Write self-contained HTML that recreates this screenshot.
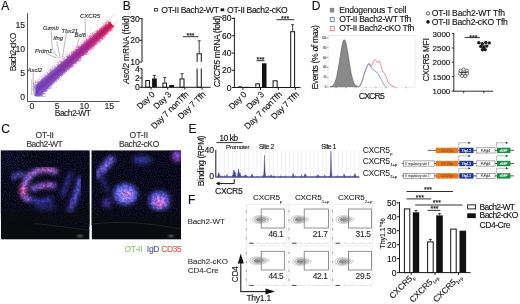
<!DOCTYPE html><html><head><meta charset="utf-8"><style>html,body{margin:0;padding:0;background:#fff;}svg{display:block;}</style></head><body><svg xmlns="http://www.w3.org/2000/svg" width="520" height="304" viewBox="0 0 520 304" font-family="Liberation Sans, Arial, sans-serif"><defs><linearGradient id="gA" gradientUnits="userSpaceOnUse" x1="37" y1="91" x2="112" y2="24"><stop offset="0" stop-color="#7e50c4"/><stop offset="0.3" stop-color="#8846bc"/><stop offset="0.55" stop-color="#aa34a0"/><stop offset="0.8" stop-color="#cc2878"/><stop offset="1" stop-color="#dc1c56"/></linearGradient><clipPath id="cA"><rect x="34.6" y="10" width="90" height="86.2"/></clipPath><filter id="bl1" x="-50%" y="-50%" width="200%" height="200%"><feGaussianBlur stdDeviation="1.2"/></filter><filter id="bgs" x="0" y="0" width="100%" height="100%" color-interpolation-filters="sRGB"><feGaussianBlur in="SourceGraphic" stdDeviation="3" result="b"/><feTurbulence type="fractalNoise" baseFrequency="0.85" numOctaves="2" seed="4" result="n"/><feColorMatrix in="n" type="matrix" values="0 0 0 3 -1.2  0 0 0 3 -1.2  0 0 0 3 -1.2  0 0 0 0 1" result="ng"/><feComposite in="b" in2="ng" operator="arithmetic" k1="0.8" k2="0.15" k3="0" k4="0"/></filter><filter id="sts" x="0" y="0" width="100%" height="100%" color-interpolation-filters="sRGB"><feGaussianBlur in="SourceGraphic" stdDeviation="2.1" result="b"/><feTurbulence type="fractalNoise" baseFrequency="0.4" numOctaves="3" seed="9" result="n"/><feColorMatrix in="n" type="matrix" values="0 0 0 1.6 -0.5  0 0 0 1.6 -0.5  0 0 0 1.6 -0.5  0 0 0 0 1" result="ng"/><feComposite in="b" in2="ng" operator="arithmetic" k1="0.8" k2="0.85" k3="0" k4="0"/></filter><linearGradient id="fadeB" x1="0" y1="0" x2="0" y2="1"><stop offset="0" stop-color="#0a0c10" stop-opacity="0"/><stop offset="1" stop-color="#0a0c10" stop-opacity="0.85"/></linearGradient><clipPath id="c1"><rect x="0.8" y="150.4" width="88.8" height="89.2"/></clipPath><clipPath id="c2"><rect x="91.6" y="150.6" width="89.4" height="89"/></clipPath><filter id="bl05" x="-50%" y="-50%" width="200%" height="200%"><feGaussianBlur stdDeviation="0.7"/></filter></defs><text x="1.2" y="9.8" font-size="12" text-anchor="start" fill="#111" stroke="#111" stroke-width="0.12" >A</text><text x="122.8" y="9.9" font-size="12" text-anchor="start" fill="#111" stroke="#111" stroke-width="0.12" >B</text><text x="311.8" y="9.6" font-size="12" text-anchor="start" fill="#111" stroke="#111" stroke-width="0.12" >D</text><text x="1.2" y="133" font-size="12" text-anchor="start" fill="#111" stroke="#111" stroke-width="0.12" >C</text><text x="188.6" y="133.2" font-size="12" text-anchor="start" fill="#111" stroke="#111" stroke-width="0.12" >E</text><text x="188" y="203.9" font-size="12" text-anchor="start" fill="#111" stroke="#111" stroke-width="0.12" >F</text><g clip-path="url(#cA)"><g><rect x="83.6" y="53.3" width="1.2" height="1.2" fill="rgb(194,86,168)"/><rect x="51.5" y="82.2" width="1.2" height="1.2" fill="rgb(155,105,204)"/><rect x="105" y="37" width="0.9" height="0.9" fill="rgb(235,153,188)"/><rect x="92.7" y="35.6" width="1.2" height="1.2" fill="rgb(214,72,143)"/><rect x="51.7" y="69.8" width="1.2" height="1.2" fill="rgb(168,120,208)"/><rect x="62.6" y="58.9" width="0.9" height="0.9" fill="rgb(200,149,210)"/><rect x="78.9" y="59.7" width="0.9" height="0.9" fill="rgb(203,131,197)"/><rect x="83.5" y="53.7" width="1.2" height="1.2" fill="rgb(196,91,172)"/><rect x="46.5" y="87.2" width="1.2" height="1.2" fill="rgb(153,108,206)"/><rect x="70.8" y="64.7" width="1.2" height="1.2" fill="rgb(175,93,186)"/><rect x="75.2" y="61.8" width="1.2" height="1.2" fill="rgb(190,112,191)"/><rect x="53.3" y="80.6" width="1.2" height="1.2" fill="rgb(155,104,204)"/><rect x="83.8" y="42.6" width="1.2" height="1.2" fill="rgb(204,88,163)"/><rect x="57.1" y="65.1" width="1.2" height="1.2" fill="rgb(174,116,202)"/><rect x="40.1" y="80.9" width="1.2" height="1.2" fill="rgb(153,108,206)"/><rect x="96.7" y="26.5" width="0.9" height="0.9" fill="rgb(244,200,218)"/><rect x="86.1" y="53.8" width="0.9" height="0.9" fill="rgb(215,141,196)"/><rect x="35.1" y="85.5" width="1.2" height="1.2" fill="rgb(152,112,208)"/><rect x="103.5" y="35.7" width="1.2" height="1.2" fill="rgb(223,96,150)"/><rect x="75.7" y="48.8" width="1.2" height="1.2" fill="rgb(199,110,184)"/><rect x="54" y="69.2" width="1.2" height="1.2" fill="rgb(158,101,200)"/><rect x="92.3" y="32" width="0.9" height="0.9" fill="rgb(236,168,201)"/><rect x="75" y="49.3" width="0.9" height="0.9" fill="rgb(202,120,189)"/><rect x="84.3" y="52" width="1.2" height="1.2" fill="rgb(194,81,164)"/><rect x="69" y="66.9" width="1.2" height="1.2" fill="rgb(178,106,194)"/><rect x="66.1" y="69.8" width="1.2" height="1.2" fill="rgb(178,115,199)"/><rect x="44.4" y="75.9" width="1.2" height="1.2" fill="rgb(170,129,212)"/><rect x="51.1" y="69.5" width="0.9" height="0.9" fill="rgb(183,143,216)"/><rect x="44.6" y="89.7" width="1.2" height="1.2" fill="rgb(153,109,207)"/><rect x="108.9" y="29.7" width="1.2" height="1.2" fill="rgb(225,76,128)"/><rect x="45.5" y="88.5" width="1.2" height="1.2" fill="rgb(153,109,207)"/><rect x="103.8" y="26.8" width="1.2" height="1.2" fill="rgb(221,66,123)"/><rect x="104" y="34.2" width="1.2" height="1.2" fill="rgb(219,69,130)"/><rect x="73.4" y="50.9" width="1.2" height="1.2" fill="rgb(195,108,185)"/><rect x="47.3" y="75.2" width="1.2" height="1.2" fill="rgb(155,105,204)"/><rect x="104.7" y="36.2" width="0.9" height="0.9" fill="rgb(230,127,170)"/><rect x="51.8" y="66.8" width="0.9" height="0.9" fill="rgb(210,184,230)"/><rect x="36.7" y="82.1" width="0.9" height="0.9" fill="rgb(181,150,220)"/><rect x="87" y="51.8" width="0.9" height="0.9" fill="rgb(208,114,180)"/><rect x="98.8" y="30.1" width="1.2" height="1.2" fill="rgb(220,72,134)"/><rect x="75.7" y="50" width="1.2" height="1.2" fill="rgb(188,85,171)"/><rect x="75.5" y="61.5" width="1.2" height="1.2" fill="rgb(191,111,190)"/><rect x="109.6" y="36.4" width="0.9" height="0.9" fill="rgb(245,199,217)"/><rect x="98.3" y="39.7" width="1.2" height="1.2" fill="rgb(216,79,146)"/><rect x="94.4" y="34.6" width="1.2" height="1.2" fill="rgb(215,71,141)"/><rect x="78.1" y="46.6" width="1.2" height="1.2" fill="rgb(204,112,182)"/><rect x="91.3" y="45.6" width="1.2" height="1.2" fill="rgb(205,76,153)"/><rect x="49.5" y="84.2" width="1.2" height="1.2" fill="rgb(154,107,205)"/><rect x="53.7" y="65" width="0.9" height="0.9" fill="rgb(213,185,229)"/><rect x="79.6" y="57.2" width="1.2" height="1.2" fill="rgb(190,95,178)"/><rect x="105.4" y="24.7" width="1.2" height="1.2" fill="rgb(224,72,124)"/><rect x="107.4" y="22.3" width="0.9" height="0.9" fill="rgb(231,101,143)"/><rect x="106" y="34.4" width="0.9" height="0.9" fill="rgb(228,111,157)"/><rect x="80.8" y="57.4" width="0.9" height="0.9" fill="rgb(199,115,187)"/><rect x="59.6" y="61" width="0.9" height="0.9" fill="rgb(205,162,217)"/><rect x="33.2" y="87" width="1.2" height="1.2" fill="rgb(151,113,209)"/><rect x="105.4" y="24.8" width="1.2" height="1.2" fill="rgb(224,69,122)"/><rect x="99.6" y="41.9" width="0.9" height="0.9" fill="rgb(232,150,190)"/><rect x="84.4" y="53.5" width="1.2" height="1.2" fill="rgb(202,105,178)"/><rect x="60" y="74.3" width="1.2" height="1.2" fill="rgb(160,100,199)"/><rect x="106.3" y="31.6" width="1.2" height="1.2" fill="rgb(221,67,125)"/><rect x="81.9" y="54.9" width="1.2" height="1.2" fill="rgb(191,87,171)"/><rect x="76.1" y="49.8" width="1.2" height="1.2" fill="rgb(189,84,170)"/><rect x="109.6" y="27.9" width="1.2" height="1.2" fill="rgb(224,64,118)"/><rect x="78.8" y="47.4" width="1.2" height="1.2" fill="rgb(193,82,166)"/><rect x="39.5" y="95.2" width="1.2" height="1.2" fill="rgb(151,113,209)"/><rect x="94.6" y="43.1" width="1.2" height="1.2" fill="rgb(210,77,149)"/><rect x="44.7" y="92.8" width="0.9" height="0.9" fill="rgb(187,159,224)"/><rect x="97.5" y="40.2" width="1.2" height="1.2" fill="rgb(215,71,143)"/><rect x="106.1" y="31.4" width="1.2" height="1.2" fill="rgb(221,67,125)"/><rect x="48" y="74.5" width="1.2" height="1.2" fill="rgb(155,104,204)"/><rect x="73.6" y="51.5" width="1.2" height="1.2" fill="rgb(187,90,177)"/><rect x="40.6" y="79.6" width="1.2" height="1.2" fill="rgb(164,124,211)"/><rect x="71.4" y="53.6" width="1.2" height="1.2" fill="rgb(182,87,178)"/><rect x="81.4" y="45.4" width="1.2" height="1.2" fill="rgb(197,80,162)"/><rect x="79.2" y="56.6" width="1.2" height="1.2" fill="rgb(187,85,174)"/><rect x="92.5" y="34.6" width="1.2" height="1.2" fill="rgb(220,97,158)"/><rect x="52.7" y="68.4" width="0.9" height="0.9" fill="rgb(180,136,212)"/><rect x="92.3" y="35" width="1.2" height="1.2" fill="rgb(218,91,155)"/><rect x="98.1" y="31" width="1.2" height="1.2" fill="rgb(218,68,133)"/><rect x="95.6" y="43.8" width="0.9" height="0.9" fill="rgb(219,110,169)"/><rect x="51.4" y="86.6" width="0.9" height="0.9" fill="rgb(200,174,228)"/><rect x="82" y="54.1" width="1.2" height="1.2" fill="rgb(191,83,169)"/><rect x="81.2" y="44.7" width="1.2" height="1.2" fill="rgb(202,93,169)"/><rect x="92.4" y="47.4" width="0.9" height="0.9" fill="rgb(218,126,182)"/><rect x="100.8" y="29.1" width="1.2" height="1.2" fill="rgb(220,68,129)"/><rect x="80.7" y="45.8" width="1.2" height="1.2" fill="rgb(196,80,163)"/><rect x="80.2" y="59.5" width="0.9" height="0.9" fill="rgb(212,152,206)"/><rect x="54.3" y="80.9" width="1.2" height="1.2" fill="rgb(169,125,211)"/><rect x="86.4" y="51.2" width="1.2" height="1.2" fill="rgb(202,97,171)"/><rect x="38" y="81.8" width="1.2" height="1.2" fill="rgb(165,126,213)"/><rect x="99.7" y="38" width="1.2" height="1.2" fill="rgb(216,70,138)"/><rect x="71.3" y="53.4" width="1.2" height="1.2" fill="rgb(185,94,181)"/><rect x="47.4" y="74" width="1.2" height="1.2" fill="rgb(160,112,206)"/><rect x="33.7" y="85.6" width="1.2" height="1.2" fill="rgb(164,129,214)"/><rect x="79.5" y="56.2" width="1.2" height="1.2" fill="rgb(187,85,173)"/><rect x="90" y="38" width="1.2" height="1.2" fill="rgb(209,73,147)"/><rect x="44.5" y="89.3" width="1.2" height="1.2" fill="rgb(153,109,207)"/><rect x="101.2" y="27.4" width="1.2" height="1.2" fill="rgb(224,85,139)"/><rect x="58.3" y="76.7" width="1.2" height="1.2" fill="rgb(164,112,206)"/><rect x="49" y="85.6" width="1.2" height="1.2" fill="rgb(158,115,208)"/><rect x="104.1" y="34.3" width="1.2" height="1.2" fill="rgb(220,73,133)"/><rect x="35.5" y="85.1" width="1.2" height="1.2" fill="rgb(152,111,208)"/><rect x="95.6" y="42.2" width="1.2" height="1.2" fill="rgb(213,80,150)"/><rect x="62.9" y="71.3" width="1.2" height="1.2" fill="rgb(164,97,195)"/><rect x="74.9" y="60.8" width="1.2" height="1.2" fill="rgb(181,89,180)"/><rect x="56.1" y="80.7" width="0.9" height="0.9" fill="rgb(185,147,218)"/><rect x="93" y="43.8" width="1.2" height="1.2" fill="rgb(208,74,150)"/><rect x="50.9" y="88.2" width="0.9" height="0.9" fill="rgb(211,192,234)"/><rect x="79.6" y="45.7" width="1.2" height="1.2" fill="rgb(202,101,174)"/><rect x="95.2" y="41.7" width="1.2" height="1.2" fill="rgb(211,73,146)"/><rect x="79.5" y="46.1" width="1.2" height="1.2" fill="rgb(199,94,171)"/><rect x="87.8" y="36.5" width="0.9" height="0.9" fill="rgb(230,156,197)"/><rect x="63.5" y="60" width="1.2" height="1.2" fill="rgb(177,102,191)"/><rect x="71.7" y="53.4" width="1.2" height="1.2" fill="rgb(183,87,177)"/><rect x="86.3" y="40.6" width="1.2" height="1.2" fill="rgb(206,82,157)"/><rect x="95.2" y="32.9" width="1.2" height="1.2" fill="rgb(218,80,144)"/><rect x="46" y="90.2" width="0.9" height="0.9" fill="rgb(171,135,216)"/><rect x="109" y="22" width="1.2" height="1.2" fill="rgb(226,69,117)"/><rect x="91.1" y="29.1" width="0.9" height="0.9" fill="rgb(243,200,221)"/><rect x="35.4" y="80.6" width="0.9" height="0.9" fill="rgb(216,200,237)"/><rect x="37.1" y="83.6" width="1.2" height="1.2" fill="rgb(153,110,208)"/><rect x="79.9" y="57.3" width="1.2" height="1.2" fill="rgb(194,103,182)"/><rect x="42" y="77.2" width="0.9" height="0.9" fill="rgb(184,151,220)"/><rect x="50.9" y="82.8" width="1.2" height="1.2" fill="rgb(154,106,204)"/><rect x="71" y="63.8" width="1.2" height="1.2" fill="rgb(175,91,185)"/><rect x="51.6" y="67.9" width="0.9" height="0.9" fill="rgb(199,167,224)"/><rect x="64.7" y="59.7" width="1.2" height="1.2" fill="rgb(173,92,187)"/><rect x="108.2" y="20.8" width="0.9" height="0.9" fill="rgb(235,123,157)"/><rect x="54.3" y="81.9" width="0.9" height="0.9" fill="rgb(178,138,215)"/><rect x="51.5" y="81.9" width="1.2" height="1.2" fill="rgb(155,105,204)"/><rect x="68.5" y="56.1" width="1.2" height="1.2" fill="rgb(179,90,181)"/><rect x="48.1" y="86.4" width="1.2" height="1.2" fill="rgb(157,113,208)"/><rect x="49.7" y="86.9" width="0.9" height="0.9" fill="rgb(181,147,219)"/><rect x="49.2" y="73" width="1.2" height="1.2" fill="rgb(156,103,204)"/><rect x="76.6" y="63.1" width="0.9" height="0.9" fill="rgb(212,160,213)"/><rect x="78" y="61.4" width="0.9" height="0.9" fill="rgb(210,151,207)"/><rect x="99" y="30.3" width="1.2" height="1.2" fill="rgb(219,68,131)"/><rect x="37.7" y="81.1" width="0.9" height="0.9" fill="rgb(182,151,221)"/><rect x="104.5" y="25.4" width="1.2" height="1.2" fill="rgb(223,72,126)"/><rect x="110.8" y="27.8" width="1.2" height="1.2" fill="rgb(226,78,127)"/><rect x="67.8" y="56.3" width="1.2" height="1.2" fill="rgb(182,99,186)"/><rect x="33" y="87.2" width="1.2" height="1.2" fill="rgb(151,113,209)"/><rect x="70.8" y="64.9" width="1.2" height="1.2" fill="rgb(178,98,188)"/><rect x="101.1" y="39.8" width="0.9" height="0.9" fill="rgb(230,134,178)"/><rect x="85.3" y="41.8" width="1.2" height="1.2" fill="rgb(203,77,155)"/><rect x="92.4" y="45.3" width="1.2" height="1.2" fill="rgb(208,83,156)"/><rect x="41.4" y="80.2" width="1.2" height="1.2" fill="rgb(153,108,206)"/><rect x="107" y="31.8" width="1.2" height="1.2" fill="rgb(224,83,136)"/><rect x="60" y="74.8" width="1.2" height="1.2" fill="rgb(162,104,201)"/><rect x="74.4" y="61" width="1.2" height="1.2" fill="rgb(180,89,181)"/><rect x="105.3" y="22.4" width="0.9" height="0.9" fill="rgb(236,142,173)"/><rect x="57.2" y="79.4" width="0.9" height="0.9" fill="rgb(181,141,216)"/><rect x="91.2" y="49.2" width="0.9" height="0.9" fill="rgb(222,143,193)"/><rect x="68.4" y="67.4" width="1.2" height="1.2" fill="rgb(178,106,193)"/><rect x="84" y="42.8" width="1.2" height="1.2" fill="rgb(201,78,158)"/><rect x="87" y="49.9" width="1.2" height="1.2" fill="rgb(198,79,160)"/><rect x="77.6" y="58.5" width="1.2" height="1.2" fill="rgb(184,86,176)"/><rect x="91.3" y="45.3" width="1.2" height="1.2" fill="rgb(205,76,153)"/><rect x="109.6" y="28.4" width="1.2" height="1.2" fill="rgb(224,65,119)"/><rect x="85.7" y="40.1" width="0.9" height="0.9" fill="rgb(215,114,175)"/><rect x="92.4" y="46" width="1.2" height="1.2" fill="rgb(212,99,166)"/><rect x="71.4" y="50.4" width="0.9" height="0.9" fill="rgb(217,164,212)"/><rect x="72.7" y="53.1" width="1.2" height="1.2" fill="rgb(184,86,176)"/><rect x="75.8" y="49.7" width="1.2" height="1.2" fill="rgb(191,88,174)"/><rect x="99.5" y="29.9" width="1.2" height="1.2" fill="rgb(219,68,130)"/><rect x="70.2" y="66" width="1.2" height="1.2" fill="rgb(181,108,193)"/><rect x="79.5" y="60.3" width="0.9" height="0.9" fill="rgb(213,156,209)"/><rect x="71.9" y="66.1" width="0.9" height="0.9" fill="rgb(197,138,205)"/><rect x="87.7" y="49.4" width="1.2" height="1.2" fill="rgb(200,81,160)"/><rect x="60.4" y="62.8" width="1.2" height="1.2" fill="rgb(171,101,194)"/><rect x="93.2" y="44.8" width="1.2" height="1.2" fill="rgb(211,89,158)"/><rect x="65.6" y="58.8" width="1.2" height="1.2" fill="rgb(175,92,186)"/><rect x="61.1" y="74.7" width="1.2" height="1.2" fill="rgb(174,122,207)"/><rect x="58" y="64.2" width="1.2" height="1.2" fill="rgb(177,119,202)"/><rect x="69.4" y="66.2" width="1.2" height="1.2" fill="rgb(175,99,190)"/><rect x="72.4" y="48.1" width="0.9" height="0.9" fill="rgb(232,197,227)"/><rect x="86.7" y="50.4" width="1.2" height="1.2" fill="rgb(199,83,163)"/><rect x="66.9" y="67.7" width="1.2" height="1.2" fill="rgb(170,95,190)"/><rect x="57" y="77.4" width="1.2" height="1.2" fill="rgb(156,102,203)"/><rect x="109.7" y="21.8" width="1.2" height="1.2" fill="rgb(226,63,113)"/><rect x="70.6" y="67.5" width="0.9" height="0.9" fill="rgb(198,143,208)"/><rect x="105.1" y="25" width="1.2" height="1.2" fill="rgb(224,68,122)"/><rect x="57.8" y="64.6" width="1.2" height="1.2" fill="rgb(174,114,201)"/><rect x="64.9" y="53.6" width="0.9" height="0.9" fill="rgb(232,206,233)"/><rect x="33.6" y="86.8" width="1.2" height="1.2" fill="rgb(151,113,209)"/><rect x="73.6" y="63.2" width="1.2" height="1.2" fill="rgb(188,112,192)"/><rect x="60.5" y="60.6" width="0.9" height="0.9" fill="rgb(200,153,213)"/><rect x="72.6" y="65.6" width="0.9" height="0.9" fill="rgb(199,140,206)"/><rect x="71.1" y="66.4" width="0.9" height="0.9" fill="rgb(192,130,202)"/><rect x="43.7" y="77.3" width="1.2" height="1.2" fill="rgb(160,115,208)"/><rect x="89.7" y="47" width="1.2" height="1.2" fill="rgb(203,77,155)"/><rect x="92" y="45.3" width="1.2" height="1.2" fill="rgb(206,75,152)"/><rect x="61.3" y="57.5" width="0.9" height="0.9" fill="rgb(229,204,233)"/><rect x="47" y="73.7" width="1.2" height="1.2" fill="rgb(170,127,211)"/><rect x="58.2" y="65.1" width="1.2" height="1.2" fill="rgb(164,97,194)"/><rect x="72.8" y="65.3" width="0.9" height="0.9" fill="rgb(198,137,204)"/><rect x="77.7" y="45.7" width="0.9" height="0.9" fill="rgb(216,145,199)"/><rect x="50.3" y="70.4" width="0.9" height="0.9" fill="rgb(180,140,215)"/><rect x="47" y="72" width="0.9" height="0.9" fill="rgb(195,165,224)"/><rect x="89.6" y="36.1" width="0.9" height="0.9" fill="rgb(223,128,179)"/><rect x="43.5" y="78" width="1.2" height="1.2" fill="rgb(154,107,205)"/><rect x="89.2" y="36.2" width="0.9" height="0.9" fill="rgb(225,133,183)"/><rect x="103.1" y="26.7" width="1.2" height="1.2" fill="rgb(221,66,124)"/><rect x="95.3" y="43.3" width="1.2" height="1.2" fill="rgb(217,99,163)"/><rect x="55.5" y="67.4" width="1.2" height="1.2" fill="rgb(161,100,198)"/><rect x="67.4" y="57.1" width="1.2" height="1.2" fill="rgb(177,90,183)"/><rect x="63.6" y="60.7" width="1.2" height="1.2" fill="rgb(172,93,188)"/><rect x="45" y="89.1" width="1.2" height="1.2" fill="rgb(153,109,207)"/><rect x="55.9" y="77.8" width="1.2" height="1.2" fill="rgb(156,102,203)"/><rect x="48.5" y="85.6" width="1.2" height="1.2" fill="rgb(153,107,205)"/><rect x="71.7" y="64.4" width="1.2" height="1.2" fill="rgb(180,101,189)"/><rect x="40.8" y="80.3" width="1.2" height="1.2" fill="rgb(153,108,206)"/><rect x="96.8" y="40.9" width="1.2" height="1.2" fill="rgb(213,74,145)"/><rect x="59.9" y="62.2" width="1.2" height="1.2" fill="rgb(183,123,203)"/><rect x="100.1" y="40.7" width="0.9" height="0.9" fill="rgb(229,134,179)"/><rect x="100.6" y="28.8" width="1.2" height="1.2" fill="rgb(220,68,129)"/><rect x="94.9" y="42.1" width="1.2" height="1.2" fill="rgb(210,73,147)"/><rect x="105.8" y="25" width="1.2" height="1.2" fill="rgb(223,65,119)"/><rect x="58.4" y="75.4" width="1.2" height="1.2" fill="rgb(158,101,201)"/><rect x="99.9" y="38.1" width="1.2" height="1.2" fill="rgb(217,74,140)"/><rect x="87.7" y="49.2" width="1.2" height="1.2" fill="rgb(199,79,159)"/><rect x="109.2" y="28.9" width="1.2" height="1.2" fill="rgb(223,65,119)"/><rect x="74.2" y="61" width="1.2" height="1.2" fill="rgb(180,89,181)"/><rect x="86.3" y="40.2" width="1.2" height="1.2" fill="rgb(209,91,162)"/><rect x="101.8" y="36.9" width="1.2" height="1.2" fill="rgb(221,87,146)"/><rect x="60.2" y="73.9" width="1.2" height="1.2" fill="rgb(160,100,198)"/><rect x="42.1" y="78.2" width="1.2" height="1.2" fill="rgb(165,125,211)"/><rect x="69.2" y="66" width="1.2" height="1.2" fill="rgb(172,93,187)"/><rect x="106.2" y="34.3" width="0.9" height="0.9" fill="rgb(228,114,160)"/><rect x="97.6" y="31.9" width="1.2" height="1.2" fill="rgb(217,69,135)"/><rect x="91.2" y="35.6" width="0.9" height="0.9" fill="rgb(221,105,165)"/><rect x="36.7" y="79" width="0.9" height="0.9" fill="rgb(221,207,239)"/><rect x="50.8" y="83.5" width="1.2" height="1.2" fill="rgb(159,113,207)"/><rect x="108.6" y="30.3" width="1.2" height="1.2" fill="rgb(225,84,134)"/><rect x="38.2" y="82.7" width="1.2" height="1.2" fill="rgb(153,110,207)"/><rect x="43.3" y="90.5" width="1.2" height="1.2" fill="rgb(153,110,208)"/><rect x="77.5" y="58.7" width="1.2" height="1.2" fill="rgb(184,86,176)"/><rect x="34.4" y="85.8" width="1.2" height="1.2" fill="rgb(153,113,209)"/><rect x="76.8" y="48.4" width="1.2" height="1.2" fill="rgb(195,95,175)"/><rect x="77.8" y="46.1" width="0.9" height="0.9" fill="rgb(212,135,193)"/><rect x="51.3" y="70.9" width="1.2" height="1.2" fill="rgb(158,106,204)"/><rect x="78.5" y="45.8" width="0.9" height="0.9" fill="rgb(210,126,189)"/><rect x="93.6" y="48.3" width="0.9" height="0.9" fill="rgb(232,173,208)"/><rect x="57.1" y="62.1" width="0.9" height="0.9" fill="rgb(214,183,227)"/><rect x="85.8" y="41.4" width="1.2" height="1.2" fill="rgb(204,77,154)"/><rect x="86.1" y="38.9" width="0.9" height="0.9" fill="rgb(221,132,185)"/><rect x="97" y="30.2" width="0.9" height="0.9" fill="rgb(227,114,163)"/><rect x="56.5" y="77.6" width="1.2" height="1.2" fill="rgb(156,102,203)"/><rect x="45.2" y="76" width="1.2" height="1.2" fill="rgb(160,114,207)"/><rect x="48.9" y="87.8" width="0.9" height="0.9" fill="rgb(181,148,219)"/><rect x="43" y="74.4" width="0.9" height="0.9" fill="rgb(209,187,232)"/><rect x="106.9" y="31.2" width="1.2" height="1.2" fill="rgb(221,66,124)"/><rect x="68.9" y="56" width="1.2" height="1.2" fill="rgb(179,90,181)"/><rect x="44.2" y="90.3" width="1.2" height="1.2" fill="rgb(153,111,207)"/><rect x="97.6" y="39.8" width="1.2" height="1.2" fill="rgb(215,71,142)"/><rect x="75.4" y="49" width="1.2" height="1.2" fill="rgb(199,110,183)"/><rect x="62.9" y="71.7" width="1.2" height="1.2" fill="rgb(164,98,195)"/><rect x="56.3" y="81.1" width="0.9" height="0.9" fill="rgb(191,157,222)"/><rect x="72.6" y="66.2" width="0.9" height="0.9" fill="rgb(205,153,211)"/><rect x="53.7" y="69.2" width="1.2" height="1.2" fill="rgb(158,101,200)"/><rect x="59.6" y="64.2" width="1.2" height="1.2" fill="rgb(166,96,192)"/><rect x="73.3" y="51" width="1.2" height="1.2" fill="rgb(194,107,185)"/><rect x="80.1" y="56.8" width="1.2" height="1.2" fill="rgb(192,95,178)"/><rect x="81.4" y="59.6" width="0.9" height="0.9" fill="rgb(224,179,219)"/><rect x="75.3" y="49.7" width="1.2" height="1.2" fill="rgb(193,98,178)"/><rect x="49.7" y="84.5" width="1.2" height="1.2" fill="rgb(156,109,206)"/><rect x="66.9" y="56.2" width="0.9" height="0.9" fill="rgb(193,124,198)"/><rect x="94.1" y="33.9" width="1.2" height="1.2" fill="rgb(217,79,145)"/><rect x="77.4" y="59.4" width="1.2" height="1.2" fill="rgb(189,101,184)"/><rect x="54.9" y="78.8" width="1.2" height="1.2" fill="rgb(156,103,203)"/><rect x="70.2" y="51.8" width="0.9" height="0.9" fill="rgb(212,157,209)"/><rect x="43.9" y="92.9" width="0.9" height="0.9" fill="rgb(177,146,219)"/><rect x="107" y="31.1" width="1.2" height="1.2" fill="rgb(221,66,124)"/><rect x="41.9" y="79.8" width="1.2" height="1.2" fill="rgb(153,107,206)"/><rect x="60.1" y="74.4" width="1.2" height="1.2" fill="rgb(160,100,199)"/><rect x="103.1" y="27.1" width="1.2" height="1.2" fill="rgb(221,66,124)"/><rect x="41.4" y="79.6" width="1.2" height="1.2" fill="rgb(154,109,207)"/><rect x="87.9" y="38.6" width="1.2" height="1.2" fill="rgb(213,96,162)"/><rect x="45.9" y="89.6" width="1.2" height="1.2" fill="rgb(168,131,214)"/><rect x="89.1" y="39" width="1.2" height="1.2" fill="rgb(208,74,149)"/><rect x="90.5" y="31.3" width="0.9" height="0.9" fill="rgb(243,201,221)"/><rect x="40.5" y="80" width="1.2" height="1.2" fill="rgb(160,118,209)"/><rect x="69" y="55.9" width="1.2" height="1.2" fill="rgb(179,90,181)"/><rect x="39.2" y="82.3" width="1.2" height="1.2" fill="rgb(153,109,207)"/><rect x="45.2" y="76.5" width="1.2" height="1.2" fill="rgb(154,106,204)"/><rect x="65.4" y="58.9" width="1.2" height="1.2" fill="rgb(175,92,186)"/><rect x="50.6" y="72.2" width="1.2" height="1.2" fill="rgb(156,103,203)"/><rect x="59.8" y="74.3" width="1.2" height="1.2" fill="rgb(159,100,199)"/><rect x="65.8" y="69.1" width="1.2" height="1.2" fill="rgb(168,96,192)"/><rect x="59" y="61.1" width="0.9" height="0.9" fill="rgb(209,171,221)"/><rect x="58.7" y="76.5" width="1.2" height="1.2" fill="rgb(167,116,206)"/><rect x="47.5" y="73.1" width="0.9" height="0.9" fill="rgb(175,134,214)"/><rect x="75" y="47.3" width="0.9" height="0.9" fill="rgb(220,163,209)"/><rect x="39.3" y="81.4" width="1.2" height="1.2" fill="rgb(154,111,208)"/><rect x="45.9" y="91.1" width="0.9" height="0.9" fill="rgb(182,151,220)"/><rect x="83.9" y="42.2" width="1.2" height="1.2" fill="rgb(206,94,166)"/><rect x="35.8" y="84.3" width="1.2" height="1.2" fill="rgb(157,118,210)"/><rect x="54.8" y="68.6" width="1.2" height="1.2" fill="rgb(160,100,199)"/><rect x="107.1" y="32.1" width="1.2" height="1.2" fill="rgb(226,92,142)"/><rect x="32.8" y="86.9" width="1.2" height="1.2" fill="rgb(156,119,211)"/><rect x="79.9" y="59.1" width="0.9" height="0.9" fill="rgb(206,136,199)"/><rect x="87.6" y="49.1" width="1.2" height="1.2" fill="rgb(199,79,159)"/><rect x="99.9" y="41.1" width="0.9" height="0.9" fill="rgb(229,138,182)"/><rect x="97.2" y="42.9" width="0.9" height="0.9" fill="rgb(224,123,175)"/><rect x="55.1" y="79.6" width="1.2" height="1.2" fill="rgb(161,111,206)"/><rect x="103.9" y="24.5" width="0.9" height="0.9" fill="rgb(231,114,156)"/><rect x="108.4" y="30" width="1.2" height="1.2" fill="rgb(224,73,126)"/><rect x="57.7" y="64.8" width="1.2" height="1.2" fill="rgb(172,111,200)"/><rect x="69.6" y="66.3" width="1.2" height="1.2" fill="rgb(179,106,193)"/><rect x="67.8" y="66.8" width="1.2" height="1.2" fill="rgb(170,94,189)"/><rect x="88.8" y="38.2" width="1.2" height="1.2" fill="rgb(212,88,157)"/><rect x="82.1" y="44" width="1.2" height="1.2" fill="rgb(201,89,165)"/><rect x="52.4" y="81.9" width="1.2" height="1.2" fill="rgb(158,109,206)"/><rect x="57.7" y="76.4" width="1.2" height="1.2" fill="rgb(157,102,202)"/><rect x="59.2" y="74.9" width="1.2" height="1.2" fill="rgb(158,101,200)"/><rect x="41" y="76.6" width="0.9" height="0.9" fill="rgb(203,180,230)"/><rect x="89.2" y="38.3" width="1.2" height="1.2" fill="rgb(209,77,150)"/><rect x="84.7" y="52.7" width="1.2" height="1.2" fill="rgb(198,94,172)"/><rect x="74.8" y="51" width="1.2" height="1.2" fill="rgb(187,85,173)"/><rect x="62.2" y="74.2" width="0.9" height="0.9" fill="rgb(178,127,208)"/><rect x="46.4" y="88" width="1.2" height="1.2" fill="rgb(154,110,207)"/><rect x="40.6" y="93.6" width="1.2" height="1.2" fill="rgb(152,112,209)"/><rect x="53.7" y="80" width="1.2" height="1.2" fill="rgb(155,104,204)"/><rect x="112.2" y="25.9" width="1.2" height="1.2" fill="rgb(226,67,116)"/><rect x="108.3" y="21.6" width="0.9" height="0.9" fill="rgb(231,101,141)"/><rect x="89.7" y="47.6" width="1.2" height="1.2" fill="rgb(203,83,159)"/><rect x="59.5" y="74.5" width="1.2" height="1.2" fill="rgb(159,100,199)"/><rect x="72.6" y="53.1" width="1.2" height="1.2" fill="rgb(184,86,176)"/><rect x="49.7" y="83.9" width="1.2" height="1.2" fill="rgb(154,107,205)"/><rect x="68.6" y="67.4" width="1.2" height="1.2" fill="rgb(179,110,195)"/><rect x="111.4" y="30.1" width="0.9" height="0.9" fill="rgb(236,138,172)"/><rect x="41.8" y="92.7" width="1.2" height="1.2" fill="rgb(152,112,208)"/><rect x="37.9" y="83" width="1.2" height="1.2" fill="rgb(153,110,207)"/><rect x="34.6" y="83.4" width="0.9" height="0.9" fill="rgb(187,161,224)"/><rect x="54.3" y="67.4" width="1.2" height="1.2" fill="rgb(173,121,206)"/><rect x="41.8" y="93.9" width="1.2" height="1.2" fill="rgb(165,131,215)"/><rect x="78.6" y="60.3" width="0.9" height="0.9" fill="rgb(205,138,201)"/><rect x="42.4" y="92.3" width="1.2" height="1.2" fill="rgb(154,114,209)"/><rect x="105.4" y="24.7" width="1.2" height="1.2" fill="rgb(224,71,123)"/><rect x="84.4" y="51.7" width="1.2" height="1.2" fill="rgb(195,81,164)"/><rect x="104.3" y="33.4" width="1.2" height="1.2" fill="rgb(220,68,129)"/><rect x="37.8" y="82.4" width="1.2" height="1.2" fill="rgb(160,120,210)"/><rect x="96" y="41" width="1.2" height="1.2" fill="rgb(213,72,145)"/><rect x="48.2" y="86.3" width="1.2" height="1.2" fill="rgb(156,112,208)"/><rect x="107.8" y="23.2" width="1.2" height="1.2" fill="rgb(225,64,116)"/><rect x="102.7" y="35.6" width="1.2" height="1.2" fill="rgb(219,73,136)"/><rect x="68.9" y="56.3" width="1.2" height="1.2" fill="rgb(179,90,181)"/><rect x="69.1" y="66.7" width="1.2" height="1.2" fill="rgb(177,104,192)"/><rect x="66.6" y="54.1" width="0.9" height="0.9" fill="rgb(218,175,219)"/><rect x="105" y="33.2" width="1.2" height="1.2" fill="rgb(220,69,129)"/><rect x="104.3" y="25.5" width="1.2" height="1.2" fill="rgb(223,72,125)"/><rect x="34.5" y="84" width="0.9" height="0.9" fill="rgb(180,151,221)"/><rect x="75" y="51.1" width="1.2" height="1.2" fill="rgb(187,85,173)"/><rect x="68.4" y="54.6" width="0.9" height="0.9" fill="rgb(198,130,199)"/><rect x="109.8" y="29.7" width="1.2" height="1.2" fill="rgb(228,97,142)"/><rect x="44.5" y="90.6" width="1.2" height="1.2" fill="rgb(161,122,211)"/><rect x="95.6" y="32.8" width="1.2" height="1.2" fill="rgb(217,73,139)"/><rect x="91.7" y="45.4" width="1.2" height="1.2" fill="rgb(205,76,153)"/><rect x="98.4" y="38.7" width="1.2" height="1.2" fill="rgb(215,71,140)"/><rect x="89.1" y="47.5" width="1.2" height="1.2" fill="rgb(202,78,157)"/><rect x="106.1" y="21.6" width="0.9" height="0.9" fill="rgb(238,146,176)"/><rect x="73.8" y="62" width="1.2" height="1.2" fill="rgb(179,90,181)"/><rect x="86.3" y="51.2" width="1.2" height="1.2" fill="rgb(202,95,170)"/><rect x="105.8" y="23.8" width="1.2" height="1.2" fill="rgb(227,86,134)"/><rect x="70.9" y="65" width="1.2" height="1.2" fill="rgb(179,102,190)"/><rect x="97.7" y="40.3" width="1.2" height="1.2" fill="rgb(216,77,146)"/><rect x="91.1" y="46.3" width="1.2" height="1.2" fill="rgb(205,79,155)"/><rect x="103.6" y="26.9" width="1.2" height="1.2" fill="rgb(221,66,124)"/><rect x="98" y="39.9" width="1.2" height="1.2" fill="rgb(216,76,145)"/><rect x="61.2" y="72.8" width="1.2" height="1.2" fill="rgb(162,99,197)"/><rect x="48.3" y="73.2" width="1.2" height="1.2" fill="rgb(162,114,207)"/><rect x="87.2" y="50.2" width="1.2" height="1.2" fill="rgb(201,89,165)"/><rect x="106.8" y="21.5" width="0.9" height="0.9" fill="rgb(236,135,167)"/><rect x="49.5" y="87.7" width="0.9" height="0.9" fill="rgb(187,157,222)"/><rect x="50.1" y="84.2" width="1.2" height="1.2" fill="rgb(157,111,207)"/><rect x="83.8" y="54" width="1.2" height="1.2" fill="rgb(201,105,179)"/><rect x="43.6" y="77.3" width="1.2" height="1.2" fill="rgb(159,114,208)"/><rect x="44.6" y="90.6" width="1.2" height="1.2" fill="rgb(163,125,212)"/><rect x="97.2" y="40" width="1.2" height="1.2" fill="rgb(215,71,142)"/><rect x="46" y="90.8" width="0.9" height="0.9" fill="rgb(179,147,219)"/><rect x="61.3" y="61.2" width="0.9" height="0.9" fill="rgb(186,125,202)"/><rect x="50.4" y="84.2" width="1.2" height="1.2" fill="rgb(162,118,209)"/><rect x="65.7" y="70" width="1.2" height="1.2" fill="rgb(176,111,199)"/><rect x="105.4" y="32.4" width="1.2" height="1.2" fill="rgb(221,67,127)"/><rect x="48.4" y="65" width="0.9" height="0.9" fill="rgb(226,210,239)"/><rect x="65" y="69.9" width="1.2" height="1.2" fill="rgb(168,98,193)"/><rect x="87.4" y="49.8" width="1.2" height="1.2" fill="rgb(200,84,162)"/><rect x="38.9" y="82.4" width="1.2" height="1.2" fill="rgb(153,109,207)"/><rect x="60.2" y="79.7" width="0.9" height="0.9" fill="rgb(220,200,236)"/><rect x="33.3" y="84.3" width="0.9" height="0.9" fill="rgb(190,165,226)"/><rect x="76.1" y="50.2" width="1.2" height="1.2" fill="rgb(189,84,171)"/><rect x="92.1" y="32.6" width="0.9" height="0.9" fill="rgb(234,158,195)"/><rect x="73" y="51.6" width="1.2" height="1.2" fill="rgb(190,100,182)"/><rect x="78.5" y="46.8" width="1.2" height="1.2" fill="rgb(199,98,174)"/><rect x="97.9" y="30.6" width="1.2" height="1.2" fill="rgb(219,76,138)"/><rect x="37" y="84" width="1.2" height="1.2" fill="rgb(153,110,208)"/><rect x="94.5" y="42.6" width="1.2" height="1.2" fill="rgb(210,73,147)"/><rect x="112.7" y="26.4" width="1.2" height="1.2" fill="rgb(230,90,133)"/><rect x="67.5" y="67.9" width="1.2" height="1.2" fill="rgb(172,99,192)"/><rect x="41.3" y="78.7" width="1.2" height="1.2" fill="rgb(168,129,213)"/><rect x="92.1" y="47.6" width="0.9" height="0.9" fill="rgb(217,122,180)"/><rect x="72.3" y="66" width="0.9" height="0.9" fill="rgb(200,143,207)"/><rect x="56.5" y="78.1" width="1.2" height="1.2" fill="rgb(159,107,204)"/><rect x="89" y="48" width="1.2" height="1.2" fill="rgb(201,78,157)"/><rect x="107.6" y="29.9" width="1.2" height="1.2" fill="rgb(222,66,122)"/><rect x="112.7" y="26" width="1.2" height="1.2" fill="rgb(228,81,126)"/><rect x="40.2" y="94.1" width="1.2" height="1.2" fill="rgb(151,113,209)"/><rect x="72.5" y="53.2" width="1.2" height="1.2" fill="rgb(183,87,177)"/><rect x="62.9" y="71.8" width="1.2" height="1.2" fill="rgb(164,98,195)"/><rect x="94.2" y="33.1" width="0.9" height="0.9" fill="rgb(222,103,160)"/><rect x="59.5" y="74.4" width="1.2" height="1.2" fill="rgb(159,100,199)"/><rect x="63.3" y="71.6" width="1.2" height="1.2" fill="rgb(165,98,195)"/><rect x="37.1" y="83.3" width="1.2" height="1.2" fill="rgb(154,113,209)"/><rect x="56.8" y="77" width="1.2" height="1.2" fill="rgb(156,102,203)"/><rect x="104.7" y="33.2" width="1.2" height="1.2" fill="rgb(220,68,128)"/><rect x="88.8" y="38.8" width="1.2" height="1.2" fill="rgb(208,74,149)"/><rect x="46.1" y="88.8" width="1.2" height="1.2" fill="rgb(159,118,210)"/><rect x="78.1" y="59.4" width="1.2" height="1.2" fill="rgb(195,114,190)"/><rect x="103.2" y="37.6" width="0.9" height="0.9" fill="rgb(229,128,172)"/><rect x="106.6" y="20.8" width="0.9" height="0.9" fill="rgb(239,157,183)"/><rect x="96.9" y="44.8" width="0.9" height="0.9" fill="rgb(232,161,199)"/><rect x="89.5" y="33.6" width="0.9" height="0.9" fill="rgb(239,189,215)"/><rect x="55" y="79.6" width="1.2" height="1.2" fill="rgb(161,110,206)"/><rect x="72" y="45.7" width="0.9" height="0.9" fill="rgb(235,205,230)"/><rect x="63.4" y="73.3" width="0.9" height="0.9" fill="rgb(182,131,208)"/><rect x="75.6" y="62.7" width="0.9" height="0.9" fill="rgb(199,132,200)"/><rect x="85.7" y="50.8" width="1.2" height="1.2" fill="rgb(197,80,163)"/><rect x="63.5" y="57.1" width="0.9" height="0.9" fill="rgb(212,169,218)"/><rect x="82.5" y="56.5" width="0.9" height="0.9" fill="rgb(206,129,193)"/><rect x="58.2" y="63.8" width="0.9" height="0.9" fill="rgb(184,129,206)"/><rect x="74.9" y="49.7" width="1.2" height="1.2" fill="rgb(196,105,182)"/><rect x="66.2" y="69" width="1.2" height="1.2" fill="rgb(169,98,193)"/><rect x="99.6" y="28.8" width="1.2" height="1.2" fill="rgb(223,86,142)"/><rect x="99.6" y="40.5" width="0.9" height="0.9" fill="rgb(226,120,171)"/><rect x="110.5" y="28.6" width="1.2" height="1.2" fill="rgb(228,88,135)"/><rect x="95.4" y="33.1" width="1.2" height="1.2" fill="rgb(216,70,138)"/><rect x="95.8" y="30.9" width="0.9" height="0.9" fill="rgb(228,123,170)"/><rect x="41.3" y="93.2" width="1.2" height="1.2" fill="rgb(152,112,209)"/><rect x="32.8" y="87.1" width="1.2" height="1.2" fill="rgb(154,117,210)"/><rect x="57.7" y="76.5" width="1.2" height="1.2" fill="rgb(157,102,202)"/><rect x="104" y="33.9" width="1.2" height="1.2" fill="rgb(219,68,130)"/><rect x="67.6" y="55.9" width="1.2" height="1.2" fill="rgb(188,110,191)"/><rect x="60.8" y="62.9" width="1.2" height="1.2" fill="rgb(168,96,192)"/><rect x="97.2" y="40" width="1.2" height="1.2" fill="rgb(215,71,142)"/><rect x="73.1" y="65.5" width="0.9" height="0.9" fill="rgb(202,146,208)"/><rect x="34.1" y="85.1" width="1.2" height="1.2" fill="rgb(166,132,215)"/><rect x="54.3" y="79.5" width="1.2" height="1.2" fill="rgb(155,104,204)"/><rect x="107.1" y="30.6" width="1.2" height="1.2" fill="rgb(221,66,124)"/><rect x="51.4" y="85.1" width="0.9" height="0.9" fill="rgb(182,147,219)"/><rect x="51.5" y="71.2" width="1.2" height="1.2" fill="rgb(156,102,203)"/><rect x="104.7" y="33.4" width="1.2" height="1.2" fill="rgb(220,68,129)"/><rect x="106.7" y="24.5" width="1.2" height="1.2" fill="rgb(224,64,118)"/><rect x="89.5" y="47.3" width="1.2" height="1.2" fill="rgb(202,78,156)"/><rect x="102.3" y="35.6" width="1.2" height="1.2" fill="rgb(218,68,133)"/><rect x="43.7" y="94" width="0.9" height="0.9" fill="rgb(188,162,224)"/><rect x="44.8" y="89.1" width="1.2" height="1.2" fill="rgb(153,109,207)"/><rect x="105.2" y="25.1" width="1.2" height="1.2" fill="rgb(223,66,121)"/><rect x="112.6" y="25.1" width="1.2" height="1.2" fill="rgb(226,63,113)"/><rect x="59.5" y="74.6" width="1.2" height="1.2" fill="rgb(159,101,199)"/><rect x="102.7" y="27.6" width="1.2" height="1.2" fill="rgb(221,67,125)"/><rect x="99.6" y="28.2" width="0.9" height="0.9" fill="rgb(227,108,156)"/><rect x="86.9" y="49.4" width="1.2" height="1.2" fill="rgb(198,79,160)"/><rect x="41.8" y="93" width="1.2" height="1.2" fill="rgb(154,115,209)"/><rect x="87.9" y="52.9" width="0.9" height="0.9" fill="rgb(223,158,203)"/><rect x="37" y="82.4" width="1.2" height="1.2" fill="rgb(169,134,215)"/><rect x="66.3" y="68.8" width="1.2" height="1.2" fill="rgb(170,98,192)"/><rect x="85.5" y="40.2" width="0.9" height="0.9" fill="rgb(215,115,176)"/><rect x="61.1" y="73.1" width="1.2" height="1.2" fill="rgb(162,99,198)"/><rect x="89.7" y="46.8" width="1.2" height="1.2" fill="rgb(203,77,155)"/><rect x="95.3" y="42.1" width="1.2" height="1.2" fill="rgb(211,73,147)"/><rect x="64.3" y="58.4" width="0.9" height="0.9" fill="rgb(192,128,201)"/><rect x="113.3" y="27.5" width="0.9" height="0.9" fill="rgb(235,122,157)"/><rect x="65.7" y="71" width="0.9" height="0.9" fill="rgb(183,126,204)"/><rect x="68" y="70.3" width="0.9" height="0.9" fill="rgb(201,154,214)"/><rect x="73" y="62.8" width="1.2" height="1.2" fill="rgb(178,93,183)"/><rect x="39.5" y="81.1" width="1.2" height="1.2" fill="rgb(156,115,209)"/><rect x="59" y="79.6" width="0.9" height="0.9" fill="rgb(204,176,228)"/><rect x="61" y="73.6" width="1.2" height="1.2" fill="rgb(161,99,198)"/><rect x="106.1" y="33.5" width="1.2" height="1.2" fill="rgb(226,99,149)"/><rect x="63.4" y="60.1" width="1.2" height="1.2" fill="rgb(176,101,191)"/><rect x="110.8" y="29.5" width="0.9" height="0.9" fill="rgb(231,111,151)"/><rect x="82" y="44.9" width="1.2" height="1.2" fill="rgb(198,79,161)"/><rect x="79.2" y="46.8" width="1.2" height="1.2" fill="rgb(195,84,167)"/><rect x="90.4" y="47.5" width="1.2" height="1.2" fill="rgb(208,94,165)"/><rect x="68.7" y="55.5" width="1.2" height="1.2" fill="rgb(183,97,184)"/><rect x="93.6" y="34.7" width="1.2" height="1.2" fill="rgb(215,71,141)"/><rect x="86" y="50.6" width="1.2" height="1.2" fill="rgb(197,80,162)"/><rect x="86.7" y="50.7" width="1.2" height="1.2" fill="rgb(200,88,165)"/><rect x="69" y="65.9" width="1.2" height="1.2" fill="rgb(172,93,187)"/><rect x="86.4" y="40" width="1.2" height="1.2" fill="rgb(210,95,163)"/><rect x="57.2" y="66.1" width="1.2" height="1.2" fill="rgb(164,98,196)"/><rect x="79.1" y="61.6" width="0.9" height="0.9" fill="rgb(221,177,219)"/><rect x="104" y="33.6" width="1.2" height="1.2" fill="rgb(220,68,130)"/><rect x="90.5" y="37.2" width="1.2" height="1.2" fill="rgb(211,76,148)"/><rect x="58.6" y="65.1" width="1.2" height="1.2" fill="rgb(165,97,194)"/><rect x="65" y="54.6" width="0.9" height="0.9" fill="rgb(227,195,229)"/><rect x="85.2" y="53" width="1.2" height="1.2" fill="rgb(205,111,180)"/><rect x="58.8" y="64.6" width="1.2" height="1.2" fill="rgb(165,96,193)"/><rect x="82.5" y="55" width="1.2" height="1.2" fill="rgb(197,101,178)"/><rect x="80.7" y="60.2" width="0.9" height="0.9" fill="rgb(222,177,218)"/><rect x="45.3" y="76.1" width="1.2" height="1.2" fill="rgb(157,109,206)"/><rect x="41.5" y="95.5" width="0.9" height="0.9" fill="rgb(176,147,220)"/><rect x="61.8" y="72.7" width="1.2" height="1.2" fill="rgb(162,99,197)"/><rect x="83.3" y="53.8" width="1.2" height="1.2" fill="rgb(196,91,171)"/><rect x="37" y="82.5" width="1.2" height="1.2" fill="rgb(167,131,214)"/><rect x="68" y="56.9" width="1.2" height="1.2" fill="rgb(177,90,182)"/><rect x="49.3" y="71.6" width="1.2" height="1.2" fill="rgb(170,126,210)"/><rect x="107.9" y="21.9" width="1.2" height="1.2" fill="rgb(230,92,135)"/><rect x="38.7" y="81.6" width="1.2" height="1.2" fill="rgb(158,117,210)"/><rect x="60.2" y="58.3" width="0.9" height="0.9" fill="rgb(230,207,235)"/><rect x="88.7" y="39.3" width="1.2" height="1.2" fill="rgb(208,74,150)"/><rect x="49.9" y="69.5" width="0.9" height="0.9" fill="rgb(196,165,224)"/><rect x="111.7" y="26.6" width="1.2" height="1.2" fill="rgb(226,69,118)"/><rect x="80.3" y="46.4" width="1.2" height="1.2" fill="rgb(195,81,164)"/><rect x="77.6" y="46.8" width="0.9" height="0.9" fill="rgb(207,122,187)"/><rect x="52.4" y="70.7" width="1.2" height="1.2" fill="rgb(157,102,202)"/><rect x="83.9" y="42" width="1.2" height="1.2" fill="rgb(209,100,169)"/><rect x="92.8" y="35.6" width="1.2" height="1.2" fill="rgb(214,72,143)"/><rect x="80.9" y="42.4" width="0.9" height="0.9" fill="rgb(224,158,203)"/><rect x="43.1" y="78.7" width="1.2" height="1.2" fill="rgb(154,107,205)"/><rect x="34.3" y="84.8" width="0.9" height="0.9" fill="rgb(173,141,217)"/><rect x="45.1" y="73.5" width="0.9" height="0.9" fill="rgb(198,169,226)"/><rect x="109.5" y="30.4" width="0.9" height="0.9" fill="rgb(229,99,145)"/><rect x="87.2" y="53.7" width="0.9" height="0.9" fill="rgb(224,163,207)"/><rect x="86.1" y="39.3" width="0.9" height="0.9" fill="rgb(218,123,180)"/><rect x="89.7" y="48.4" width="1.2" height="1.2" fill="rgb(208,99,168)"/><rect x="87.3" y="49.8" width="1.2" height="1.2" fill="rgb(199,82,162)"/><rect x="55.2" y="68.1" width="1.2" height="1.2" fill="rgb(160,100,198)"/><rect x="67.7" y="57.1" width="1.2" height="1.2" fill="rgb(177,90,183)"/><rect x="61.6" y="61.7" width="1.2" height="1.2" fill="rgb(173,102,193)"/><rect x="90" y="51.5" width="0.9" height="0.9" fill="rgb(228,171,210)"/><rect x="45.4" y="76.6" width="1.2" height="1.2" fill="rgb(154,106,204)"/><rect x="65.2" y="70.4" width="1.2" height="1.2" fill="rgb(174,110,198)"/><rect x="75.3" y="62.8" width="0.9" height="0.9" fill="rgb(197,128,198)"/><rect x="68.7" y="66.4" width="1.2" height="1.2" fill="rgb(172,93,188)"/><rect x="43" y="77.6" width="1.2" height="1.2" fill="rgb(162,119,209)"/><rect x="52.2" y="70" width="1.2" height="1.2" fill="rgb(160,106,203)"/><rect x="56.2" y="86.9" width="0.9" height="0.9" fill="rgb(225,211,240)"/><rect x="37.7" y="80.7" width="0.9" height="0.9" fill="rgb(187,159,223)"/><rect x="85.4" y="51.8" width="1.2" height="1.2" fill="rgb(198,89,167)"/><rect x="43.8" y="78.1" width="1.2" height="1.2" fill="rgb(154,107,205)"/><rect x="55.3" y="66.3" width="0.9" height="0.9" fill="rgb(182,132,210)"/><rect x="106.9" y="30.9" width="1.2" height="1.2" fill="rgb(221,66,124)"/><rect x="77.5" y="58.1" width="1.2" height="1.2" fill="rgb(184,86,176)"/><rect x="48.8" y="84.9" width="1.2" height="1.2" fill="rgb(154,107,205)"/><rect x="81" y="46" width="1.2" height="1.2" fill="rgb(196,80,163)"/><rect x="86.1" y="41.5" width="1.2" height="1.2" fill="rgb(204,77,154)"/><rect x="96.1" y="42.1" width="1.2" height="1.2" fill="rgb(216,88,155)"/><rect x="64.4" y="59" width="1.2" height="1.2" fill="rgb(181,107,193)"/><rect x="111.8" y="25.7" width="1.2" height="1.2" fill="rgb(226,63,113)"/><rect x="72.9" y="62.4" width="1.2" height="1.2" fill="rgb(177,90,182)"/><rect x="35.9" y="84.6" width="1.2" height="1.2" fill="rgb(152,112,208)"/><rect x="104.7" y="22.6" width="0.9" height="0.9" fill="rgb(238,150,179)"/><rect x="97" y="31.3" width="1.2" height="1.2" fill="rgb(220,81,142)"/><rect x="64.7" y="70.1" width="1.2" height="1.2" fill="rgb(166,96,193)"/><rect x="49.9" y="69.3" width="0.9" height="0.9" fill="rgb(199,168,225)"/><rect x="33.8" y="86.6" width="1.2" height="1.2" fill="rgb(152,112,209)"/><rect x="73.1" y="65.2" width="0.9" height="0.9" fill="rgb(199,140,205)"/><rect x="91.4" y="45.9" width="1.2" height="1.2" fill="rgb(205,76,154)"/><rect x="42.3" y="79" width="1.2" height="1.2" fill="rgb(153,107,205)"/><rect x="87.8" y="36.7" width="0.9" height="0.9" fill="rgb(228,150,194)"/><rect x="102.5" y="25.9" width="0.9" height="0.9" fill="rgb(228,105,151)"/><rect x="61.4" y="73.3" width="1.2" height="1.2" fill="rgb(162,100,198)"/><rect x="98.3" y="30.9" width="1.2" height="1.2" fill="rgb(218,68,133)"/><rect x="48.9" y="84.9" width="1.2" height="1.2" fill="rgb(154,107,205)"/><rect x="96.5" y="31.1" width="1.2" height="1.2" fill="rgb(222,95,151)"/><rect x="111.9" y="25.8" width="1.2" height="1.2" fill="rgb(226,63,113)"/><rect x="90.5" y="33.3" width="0.9" height="0.9" fill="rgb(237,176,207)"/><rect x="83.2" y="42.6" width="1.2" height="1.2" fill="rgb(207,101,170)"/><rect x="49.1" y="85.6" width="1.2" height="1.2" fill="rgb(161,117,209)"/><rect x="90.7" y="46.3" width="1.2" height="1.2" fill="rgb(204,76,154)"/><rect x="40.6" y="93.5" width="1.2" height="1.2" fill="rgb(152,112,209)"/><rect x="43.3" y="78.5" width="1.2" height="1.2" fill="rgb(154,107,205)"/><rect x="66.4" y="68.1" width="1.2" height="1.2" fill="rgb(169,95,191)"/><rect x="94.5" y="34.4" width="1.2" height="1.2" fill="rgb(215,71,140)"/><rect x="43.4" y="92.9" width="0.9" height="0.9" fill="rgb(170,137,216)"/><rect x="68.8" y="66.9" width="1.2" height="1.2" fill="rgb(176,103,192)"/><rect x="76.9" y="59.2" width="1.2" height="1.2" fill="rgb(183,87,177)"/><rect x="94.3" y="33" width="1.2" height="1.2" fill="rgb(220,94,154)"/><rect x="87.4" y="52.4" width="0.9" height="0.9" fill="rgb(216,138,192)"/><rect x="98.9" y="42.4" width="0.9" height="0.9" fill="rgb(231,148,190)"/><rect x="101.3" y="37.9" width="1.2" height="1.2" fill="rgb(222,98,155)"/><rect x="54.6" y="79.4" width="1.2" height="1.2" fill="rgb(156,103,204)"/><rect x="89.6" y="36.9" width="1.2" height="1.2" fill="rgb(217,100,163)"/><rect x="45.4" y="89" width="1.2" height="1.2" fill="rgb(153,109,207)"/><rect x="62.9" y="56.2" width="0.9" height="0.9" fill="rgb(228,201,232)"/><rect x="102.3" y="22.9" width="0.9" height="0.9" fill="rgb(244,190,209)"/><rect x="87.6" y="49.3" width="1.2" height="1.2" fill="rgb(199,79,159)"/><rect x="55" y="62.1" width="0.9" height="0.9" fill="rgb(228,208,237)"/><rect x="50.2" y="72.4" width="1.2" height="1.2" fill="rgb(156,103,203)"/><rect x="53.2" y="69.5" width="1.2" height="1.2" fill="rgb(158,101,201)"/><rect x="100.6" y="28.3" width="1.2" height="1.2" fill="rgb(221,75,133)"/><rect x="78.4" y="58.2" width="1.2" height="1.2" fill="rgb(187,93,178)"/><rect x="103.5" y="35" width="1.2" height="1.2" fill="rgb(221,78,137)"/><rect x="47.1" y="87.7" width="1.2" height="1.2" fill="rgb(159,117,209)"/><rect x="58.6" y="65.2" width="1.2" height="1.2" fill="rgb(165,97,194)"/><rect x="59.9" y="62.2" width="0.9" height="0.9" fill="rgb(186,130,205)"/><rect x="51" y="71.6" width="1.2" height="1.2" fill="rgb(156,102,203)"/><rect x="58.1" y="64.9" width="1.2" height="1.2" fill="rgb(167,102,196)"/><rect x="73.4" y="62.6" width="1.2" height="1.2" fill="rgb(180,94,184)"/><rect x="68.9" y="54.9" width="1.2" height="1.2" fill="rgb(188,108,189)"/><rect x="85.6" y="41.3" width="1.2" height="1.2" fill="rgb(205,81,157)"/><rect x="99.1" y="40.5" width="0.9" height="0.9" fill="rgb(223,108,163)"/><rect x="92.1" y="47.3" width="0.9" height="0.9" fill="rgb(216,117,177)"/><rect x="48.3" y="73.9" width="1.2" height="1.2" fill="rgb(155,104,204)"/><rect x="37.6" y="83.7" width="1.2" height="1.2" fill="rgb(153,110,207)"/><rect x="80.9" y="45.1" width="1.2" height="1.2" fill="rgb(200,89,167)"/><rect x="89.8" y="35.8" width="0.9" height="0.9" fill="rgb(225,130,180)"/><rect x="96.2" y="32.8" width="1.2" height="1.2" fill="rgb(216,70,137)"/><rect x="49.1" y="84.7" width="1.2" height="1.2" fill="rgb(154,107,205)"/><rect x="41.5" y="79.5" width="1.2" height="1.2" fill="rgb(154,109,207)"/><rect x="54.1" y="65.8" width="0.9" height="0.9" fill="rgb(199,163,221)"/><rect x="88.2" y="48.5" width="1.2" height="1.2" fill="rgb(200,79,158)"/><rect x="84.3" y="40.7" width="0.9" height="0.9" fill="rgb(218,129,184)"/><rect x="40.2" y="95" width="1.2" height="1.2" fill="rgb(156,120,211)"/><rect x="79.8" y="56.9" width="1.2" height="1.2" fill="rgb(189,92,176)"/><rect x="69.1" y="54.4" width="1.2" height="1.2" fill="rgb(192,115,192)"/><rect x="47.2" y="73.6" width="0.9" height="0.9" fill="rgb(173,131,213)"/><rect x="90.8" y="36" width="1.2" height="1.2" fill="rgb(218,98,161)"/><rect x="51.4" y="71" width="1.2" height="1.2" fill="rgb(156,102,203)"/><rect x="107.8" y="30.1" width="1.2" height="1.2" fill="rgb(222,66,122)"/><rect x="57.9" y="65.3" width="1.2" height="1.2" fill="rgb(164,97,195)"/><rect x="78.4" y="41.5" width="0.9" height="0.9" fill="rgb(238,203,227)"/><rect x="87.2" y="49.2" width="1.2" height="1.2" fill="rgb(199,79,159)"/><rect x="46.2" y="75.5" width="1.2" height="1.2" fill="rgb(155,105,204)"/><rect x="65" y="71.1" width="1.2" height="1.2" fill="rgb(180,121,203)"/><rect x="96.4" y="32.6" width="1.2" height="1.2" fill="rgb(216,69,136)"/><rect x="49.4" y="69.2" width="0.9" height="0.9" fill="rgb(205,178,229)"/><rect x="39.6" y="80.5" width="1.2" height="1.2" fill="rgb(163,122,211)"/><rect x="49.2" y="84.3" width="1.2" height="1.2" fill="rgb(154,107,205)"/><rect x="103.7" y="34.2" width="1.2" height="1.2" fill="rgb(219,68,130)"/><rect x="87.4" y="40.3" width="1.2" height="1.2" fill="rgb(206,75,152)"/><rect x="41.8" y="92.8" width="1.2" height="1.2" fill="rgb(152,112,208)"/><rect x="73.5" y="62.5" width="1.2" height="1.2" fill="rgb(181,96,185)"/><rect x="65.2" y="58.9" width="1.2" height="1.2" fill="rgb(174,92,186)"/><rect x="66.7" y="56.6" width="1.2" height="1.2" fill="rgb(187,113,193)"/><rect x="40.6" y="80.4" width="1.2" height="1.2" fill="rgb(154,110,207)"/><rect x="55.7" y="80.5" width="0.9" height="0.9" fill="rgb(177,135,214)"/><rect x="36.8" y="83.7" width="1.2" height="1.2" fill="rgb(154,112,208)"/><rect x="75.7" y="60.5" width="1.2" height="1.2" fill="rgb(182,92,180)"/><rect x="57.3" y="64.6" width="1.2" height="1.2" fill="rgb(179,122,205)"/><rect x="87.5" y="49.7" width="1.2" height="1.2" fill="rgb(200,85,163)"/><rect x="68" y="67.5" width="1.2" height="1.2" fill="rgb(174,100,192)"/><rect x="60.7" y="61.6" width="1.2" height="1.2" fill="rgb(184,122,202)"/><rect x="32.8" y="86.6" width="1.2" height="1.2" fill="rgb(162,127,213)"/><rect x="86.5" y="50.6" width="1.2" height="1.2" fill="rgb(198,82,163)"/><rect x="107.8" y="29.9" width="1.2" height="1.2" fill="rgb(222,66,122)"/><rect x="104.3" y="33.3" width="1.2" height="1.2" fill="rgb(220,68,129)"/><rect x="96.6" y="25.5" width="0.9" height="0.9" fill="rgb(244,200,218)"/><rect x="105.5" y="32.6" width="1.2" height="1.2" fill="rgb(221,67,127)"/><rect x="105.8" y="23.7" width="1.2" height="1.2" fill="rgb(228,88,135)"/><rect x="44.4" y="77.7" width="1.2" height="1.2" fill="rgb(154,107,205)"/><rect x="67.7" y="55.9" width="1.2" height="1.2" fill="rgb(186,107,190)"/><rect x="83.2" y="42.6" width="1.2" height="1.2" fill="rgb(207,100,170)"/><rect x="96.1" y="32.1" width="1.2" height="1.2" fill="rgb(218,78,142)"/><rect x="101.2" y="37" width="1.2" height="1.2" fill="rgb(219,78,141)"/><rect x="72.6" y="41.7" width="0.9" height="0.9" fill="rgb(236,204,229)"/><rect x="104.9" y="25.6" width="1.2" height="1.2" fill="rgb(223,65,121)"/><rect x="52.4" y="82.1" width="1.2" height="1.2" fill="rgb(160,112,207)"/><rect x="52.4" y="69.7" width="1.2" height="1.2" fill="rgb(163,111,205)"/><rect x="49.2" y="84.3" width="1.2" height="1.2" fill="rgb(154,107,205)"/><rect x="55.7" y="67.8" width="1.2" height="1.2" fill="rgb(161,99,198)"/><rect x="71.4" y="66.7" width="0.9" height="0.9" fill="rgb(198,142,207)"/><rect x="34.4" y="84" width="0.9" height="0.9" fill="rgb(181,152,221)"/><rect x="94.5" y="31.5" width="0.9" height="0.9" fill="rgb(230,135,178)"/><rect x="71.9" y="51.4" width="0.9" height="0.9" fill="rgb(204,134,198)"/><rect x="58" y="76.2" width="1.2" height="1.2" fill="rgb(157,102,202)"/><rect x="51.5" y="71.3" width="1.2" height="1.2" fill="rgb(156,102,203)"/><rect x="105.5" y="32.6" width="1.2" height="1.2" fill="rgb(221,67,127)"/><rect x="90.4" y="49.8" width="0.9" height="0.9" fill="rgb(220,140,192)"/><rect x="49.9" y="71.3" width="1.2" height="1.2" fill="rgb(168,122,209)"/><rect x="55" y="67.2" width="1.2" height="1.2" fill="rgb(169,114,203)"/><rect x="111.8" y="33" width="0.9" height="0.9" fill="rgb(245,199,215)"/><rect x="35.5" y="82.2" width="0.9" height="0.9" fill="rgb(193,168,226)"/><rect x="91.8" y="33" width="0.9" height="0.9" fill="rgb(233,155,193)"/><rect x="90.5" y="47.1" width="1.2" height="1.2" fill="rgb(206,86,160)"/><rect x="55.8" y="78.4" width="1.2" height="1.2" fill="rgb(156,103,203)"/><rect x="41.6" y="94.1" width="1.2" height="1.2" fill="rgb(165,131,215)"/><rect x="86.5" y="41.2" width="1.2" height="1.2" fill="rgb(204,76,153)"/><rect x="108.2" y="29.4" width="1.2" height="1.2" fill="rgb(222,65,121)"/><rect x="50.4" y="70" width="0.9" height="0.9" fill="rgb(184,145,217)"/><rect x="92.1" y="44.8" width="1.2" height="1.2" fill="rgb(206,75,152)"/><rect x="70.6" y="65.1" width="1.2" height="1.2" fill="rgb(177,98,188)"/><rect x="98.3" y="40.5" width="1.2" height="1.2" fill="rgb(220,95,157)"/><rect x="71.5" y="65.1" width="1.2" height="1.2" fill="rgb(186,114,194)"/><rect x="93.5" y="44.1" width="1.2" height="1.2" fill="rgb(209,78,152)"/><rect x="54.5" y="68.3" width="1.2" height="1.2" fill="rgb(160,100,199)"/><rect x="76.2" y="59.4" width="1.2" height="1.2" fill="rgb(182,87,178)"/><rect x="109.2" y="22.6" width="1.2" height="1.2" fill="rgb(226,63,113)"/><rect x="109.5" y="30.5" width="0.9" height="0.9" fill="rgb(229,102,147)"/><rect x="44.8" y="90.9" width="1.2" height="1.2" fill="rgb(169,133,214)"/><rect x="92.5" y="49" width="0.9" height="0.9" fill="rgb(229,166,205)"/><rect x="71" y="53.3" width="1.2" height="1.2" fill="rgb(189,103,185)"/><rect x="82" y="40.3" width="0.9" height="0.9" fill="rgb(233,185,216)"/><rect x="46.8" y="69.5" width="0.9" height="0.9" fill="rgb(226,210,239)"/><rect x="62.4" y="73.4" width="1.2" height="1.2" fill="rgb(176,122,205)"/><rect x="55" y="68.4" width="1.2" height="1.2" fill="rgb(160,100,198)"/><rect x="54.7" y="68.5" width="1.2" height="1.2" fill="rgb(160,100,199)"/><rect x="95.1" y="43.4" width="1.2" height="1.2" fill="rgb(216,96,161)"/><rect x="50.7" y="71.6" width="1.2" height="1.2" fill="rgb(156,102,203)"/><rect x="94.1" y="44.3" width="1.2" height="1.2" fill="rgb(214,95,161)"/><rect x="61.7" y="61.6" width="1.2" height="1.2" fill="rgb(173,102,193)"/><rect x="105.1" y="33.3" width="1.2" height="1.2" fill="rgb(220,72,131)"/><rect x="83.8" y="43.4" width="1.2" height="1.2" fill="rgb(200,79,158)"/><rect x="105.8" y="23.5" width="1.2" height="1.2" fill="rgb(229,96,141)"/><rect x="87.8" y="36" width="0.9" height="0.9" fill="rgb(233,167,203)"/><rect x="79.1" y="47.3" width="1.2" height="1.2" fill="rgb(193,82,166)"/><rect x="76.2" y="60.8" width="1.2" height="1.2" fill="rgb(190,108,188)"/><rect x="106.4" y="31.6" width="1.2" height="1.2" fill="rgb(221,67,124)"/><rect x="64.7" y="70.5" width="1.2" height="1.2" fill="rgb(169,102,196)"/><rect x="72.9" y="52.7" width="1.2" height="1.2" fill="rgb(184,86,176)"/><rect x="93.8" y="46.6" width="0.9" height="0.9" fill="rgb(223,138,188)"/><rect x="32.7" y="86.9" width="1.2" height="1.2" fill="rgb(158,122,212)"/><rect x="93.7" y="44" width="1.2" height="1.2" fill="rgb(210,81,153)"/><rect x="70.5" y="64.3" width="1.2" height="1.2" fill="rgb(175,91,185)"/><rect x="57.3" y="78.1" width="1.2" height="1.2" fill="rgb(169,123,210)"/><rect x="103.1" y="38.5" width="0.9" height="0.9" fill="rgb(233,147,185)"/><rect x="47.4" y="74.4" width="1.2" height="1.2" fill="rgb(156,106,204)"/><rect x="72.4" y="52.3" width="1.2" height="1.2" fill="rgb(189,98,182)"/><rect x="104" y="34.9" width="1.2" height="1.2" fill="rgb(222,87,143)"/><rect x="94.2" y="45.6" width="0.9" height="0.9" fill="rgb(220,122,178)"/><rect x="96.6" y="43.3" width="0.9" height="0.9" fill="rgb(222,119,173)"/><rect x="66.7" y="58.1" width="1.2" height="1.2" fill="rgb(175,91,184)"/><rect x="48.3" y="88.2" width="0.9" height="0.9" fill="rgb(178,144,218)"/><rect x="58.9" y="77.4" width="0.9" height="0.9" fill="rgb(176,132,212)"/><rect x="46.2" y="89.2" width="1.2" height="1.2" fill="rgb(166,128,213)"/><rect x="93.1" y="45.1" width="1.2" height="1.2" fill="rgb(212,95,162)"/><rect x="92.4" y="34.7" width="1.2" height="1.2" fill="rgb(220,94,156)"/><rect x="102.7" y="35" width="1.2" height="1.2" fill="rgb(218,68,132)"/><rect x="69.2" y="66.3" width="1.2" height="1.2" fill="rgb(174,96,189)"/><rect x="68.1" y="56.9" width="1.2" height="1.2" fill="rgb(178,90,182)"/><rect x="58.8" y="65.1" width="1.2" height="1.2" fill="rgb(165,97,194)"/><rect x="73.1" y="66.6" width="0.9" height="0.9" fill="rgb(214,171,219)"/><rect x="111.3" y="27.6" width="1.2" height="1.2" fill="rgb(228,84,131)"/><rect x="78.7" y="46.3" width="1.2" height="1.2" fill="rgb(203,106,178)"/><rect x="98.5" y="41.8" width="0.9" height="0.9" fill="rgb(226,126,176)"/><rect x="67.7" y="51.4" width="0.9" height="0.9" fill="rgb(233,206,232)"/><rect x="76.3" y="64.3" width="0.9" height="0.9" fill="rgb(222,183,223)"/><rect x="53.2" y="69.9" width="1.2" height="1.2" fill="rgb(158,102,201)"/><rect x="52.4" y="81.1" width="1.2" height="1.2" fill="rgb(155,105,204)"/><rect x="53.9" y="79.7" width="1.2" height="1.2" fill="rgb(155,104,204)"/><rect x="58.4" y="78" width="0.9" height="0.9" fill="rgb(176,133,213)"/><rect x="84.9" y="42.1" width="1.2" height="1.2" fill="rgb(203,77,156)"/><rect x="52.2" y="83.8" width="0.9" height="0.9" fill="rgb(176,139,215)"/><rect x="44.2" y="90.7" width="1.2" height="1.2" fill="rgb(158,118,210)"/><rect x="67.3" y="56.5" width="1.2" height="1.2" fill="rgb(183,102,187)"/><rect x="86.3" y="39.4" width="0.9" height="0.9" fill="rgb(216,117,176)"/><rect x="88.8" y="48.1" width="1.2" height="1.2" fill="rgb(201,78,158)"/><rect x="55" y="68.1" width="1.2" height="1.2" fill="rgb(160,100,198)"/><rect x="91" y="36" width="1.2" height="1.2" fill="rgb(217,92,157)"/><rect x="98.5" y="42.1" width="0.9" height="0.9" fill="rgb(227,132,180)"/><rect x="55" y="60.5" width="0.9" height="0.9" fill="rgb(228,208,237)"/><rect x="75.7" y="49.4" width="1.2" height="1.2" fill="rgb(194,96,177)"/><rect x="84.2" y="53.9" width="1.2" height="1.2" fill="rgb(203,110,181)"/><rect x="46.8" y="87.9" width="1.2" height="1.2" fill="rgb(158,115,208)"/><rect x="40.4" y="94.1" width="1.2" height="1.2" fill="rgb(152,112,209)"/><rect x="71.7" y="63.5" width="1.2" height="1.2" fill="rgb(176,91,184)"/><rect x="37.8" y="83.5" width="1.2" height="1.2" fill="rgb(153,110,207)"/><rect x="109.3" y="21.7" width="1.2" height="1.2" fill="rgb(227,71,118)"/><rect x="44.7" y="77" width="1.2" height="1.2" fill="rgb(154,106,204)"/><rect x="65.3" y="69" width="1.2" height="1.2" fill="rgb(168,96,192)"/><rect x="100.7" y="38" width="1.2" height="1.2" fill="rgb(220,89,149)"/><rect x="56.4" y="65.8" width="1.2" height="1.2" fill="rgb(172,115,202)"/><rect x="52.5" y="67.3" width="0.9" height="0.9" fill="rgb(197,162,222)"/><rect x="87.4" y="39.7" width="1.2" height="1.2" fill="rgb(208,81,155)"/><rect x="102.5" y="36.2" width="1.2" height="1.2" fill="rgb(221,86,144)"/><rect x="68.9" y="69" width="0.9" height="0.9" fill="rgb(197,144,209)"/><rect x="34.6" y="85.7" width="1.2" height="1.2" fill="rgb(152,113,209)"/><rect x="89.8" y="37.3" width="1.2" height="1.2" fill="rgb(214,88,156)"/><rect x="93.2" y="46.4" width="0.9" height="0.9" fill="rgb(218,120,177)"/><rect x="43.7" y="77.9" width="1.2" height="1.2" fill="rgb(154,107,205)"/><rect x="55.1" y="79" width="1.2" height="1.2" fill="rgb(156,103,204)"/><rect x="43.1" y="90.8" width="1.2" height="1.2" fill="rgb(153,110,208)"/><rect x="57.7" y="65.5" width="1.2" height="1.2" fill="rgb(165,98,195)"/><rect x="50.3" y="83.7" width="1.2" height="1.2" fill="rgb(154,106,205)"/><rect x="107.5" y="30" width="1.2" height="1.2" fill="rgb(222,66,122)"/><rect x="101.5" y="27.4" width="1.2" height="1.2" fill="rgb(223,80,135)"/><rect x="93.1" y="47.6" width="0.9" height="0.9" fill="rgb(224,145,192)"/><rect x="79.5" y="44.4" width="0.9" height="0.9" fill="rgb(216,141,195)"/><rect x="99.3" y="30" width="1.2" height="1.2" fill="rgb(219,68,131)"/><rect x="63.5" y="54.3" width="0.9" height="0.9" fill="rgb(232,207,234)"/><rect x="91.4" y="37.1" width="1.2" height="1.2" fill="rgb(211,73,146)"/><rect x="92.7" y="44" width="1.2" height="1.2" fill="rgb(208,74,150)"/><rect x="88.5" y="48.3" width="1.2" height="1.2" fill="rgb(201,78,158)"/><rect x="74.3" y="62.6" width="1.2" height="1.2" fill="rgb(189,112,191)"/><rect x="73.4" y="61.8" width="1.2" height="1.2" fill="rgb(178,90,181)"/><rect x="43.8" y="90.5" width="1.2" height="1.2" fill="rgb(153,110,207)"/><rect x="100.3" y="38" width="1.2" height="1.2" fill="rgb(218,80,143)"/><rect x="73.5" y="49.9" width="0.9" height="0.9" fill="rgb(207,136,197)"/><rect x="59.8" y="74.4" width="1.2" height="1.2" fill="rgb(159,100,199)"/><rect x="70.9" y="64.3" width="1.2" height="1.2" fill="rgb(175,91,185)"/><rect x="39.6" y="76.3" width="0.9" height="0.9" fill="rgb(223,209,240)"/><rect x="93.7" y="44.3" width="1.2" height="1.2" fill="rgb(211,87,157)"/><rect x="42.8" y="92.3" width="1.2" height="1.2" fill="rgb(158,120,211)"/><rect x="65.9" y="52.2" width="0.9" height="0.9" fill="rgb(232,206,233)"/><rect x="57.6" y="64.8" width="1.2" height="1.2" fill="rgb(174,114,201)"/><rect x="66.3" y="56.6" width="1.2" height="1.2" fill="rgb(190,119,196)"/><rect x="54" y="79.6" width="1.2" height="1.2" fill="rgb(155,104,204)"/><rect x="79.5" y="56.6" width="1.2" height="1.2" fill="rgb(187,85,173)"/><rect x="93.6" y="43.7" width="1.2" height="1.2" fill="rgb(209,74,149)"/><rect x="103.1" y="26" width="1.2" height="1.2" fill="rgb(225,84,136)"/><rect x="85.9" y="37.8" width="0.9" height="0.9" fill="rgb(230,162,201)"/><rect x="58.2" y="63.7" width="0.9" height="0.9" fill="rgb(184,130,206)"/><rect x="100.3" y="28.1" width="1.2" height="1.2" fill="rgb(223,88,142)"/><rect x="78.4" y="60.6" width="0.9" height="0.9" fill="rgb(206,141,202)"/><rect x="36.6" y="81.7" width="0.9" height="0.9" fill="rgb(187,159,223)"/><rect x="45.6" y="89" width="1.2" height="1.2" fill="rgb(155,113,208)"/><rect x="74.6" y="51.3" width="1.2" height="1.2" fill="rgb(187,85,174)"/><rect x="110.2" y="28.7" width="1.2" height="1.2" fill="rgb(227,83,132)"/><rect x="112.6" y="25.8" width="1.2" height="1.2" fill="rgb(227,73,120)"/><rect x="62.3" y="72" width="1.2" height="1.2" fill="rgb(164,98,196)"/><rect x="33.7" y="84.4" width="0.9" height="0.9" fill="rgb(185,158,223)"/><rect x="105.5" y="32" width="1.2" height="1.2" fill="rgb(221,67,126)"/><rect x="109.3" y="31.4" width="0.9" height="0.9" fill="rgb(232,121,161)"/><rect x="103" y="27.3" width="1.2" height="1.2" fill="rgb(221,67,124)"/><rect x="96.9" y="29.9" width="0.9" height="0.9" fill="rgb(229,123,169)"/><rect x="102.1" y="39.1" width="0.9" height="0.9" fill="rgb(231,139,181)"/><rect x="74.6" y="62.4" width="1.2" height="1.2" fill="rgb(191,115,193)"/><rect x="101.2" y="28.2" width="1.2" height="1.2" fill="rgb(221,67,127)"/><rect x="95.1" y="42.3" width="1.2" height="1.2" fill="rgb(210,73,147)"/><rect x="43.7" y="78" width="1.2" height="1.2" fill="rgb(154,107,205)"/><rect x="55.8" y="78.2" width="1.2" height="1.2" fill="rgb(156,103,203)"/><rect x="51.6" y="66.1" width="0.9" height="0.9" fill="rgb(222,202,236)"/><rect x="100.7" y="26.8" width="0.9" height="0.9" fill="rgb(230,121,163)"/><rect x="50.5" y="90.1" width="0.9" height="0.9" fill="rgb(225,211,240)"/><rect x="62.9" y="58.4" width="0.9" height="0.9" fill="rgb(204,154,212)"/><rect x="96.9" y="19.9" width="0.9" height="0.9" fill="rgb(245,199,216)"/><rect x="58.1" y="62.5" width="0.9" height="0.9" fill="rgb(200,157,217)"/><rect x="108.6" y="22.7" width="1.2" height="1.2" fill="rgb(226,63,114)"/><rect x="51.6" y="82.3" width="1.2" height="1.2" fill="rgb(155,105,204)"/><rect x="72.1" y="63.6" width="1.2" height="1.2" fill="rgb(177,93,185)"/><rect x="47.8" y="74.3" width="1.2" height="1.2" fill="rgb(155,104,204)"/><rect x="45.6" y="70.6" width="0.9" height="0.9" fill="rgb(225,210,240)"/><rect x="65.8" y="69.1" width="1.2" height="1.2" fill="rgb(168,96,192)"/><rect x="44.9" y="75.4" width="1.2" height="1.2" fill="rgb(170,129,212)"/><rect x="92.1" y="45.1" width="1.2" height="1.2" fill="rgb(206,75,152)"/><rect x="110.6" y="27.5" width="1.2" height="1.2" fill="rgb(224,64,117)"/><rect x="88.3" y="49.3" width="1.2" height="1.2" fill="rgb(204,91,165)"/><rect x="102" y="22.1" width="0.9" height="0.9" fill="rgb(245,199,215)"/><rect x="57.2" y="78.3" width="1.2" height="1.2" fill="rgb(170,125,210)"/><rect x="36.4" y="84.6" width="1.2" height="1.2" fill="rgb(152,111,208)"/><rect x="48.8" y="85" width="1.2" height="1.2" fill="rgb(154,107,205)"/><rect x="39.9" y="95" width="1.2" height="1.2" fill="rgb(152,115,209)"/><rect x="97.2" y="32" width="1.2" height="1.2" fill="rgb(217,69,135)"/><rect x="60.3" y="74" width="1.2" height="1.2" fill="rgb(160,100,198)"/><rect x="92.7" y="50.8" width="0.9" height="0.9" fill="rgb(239,202,226)"/><rect x="81" y="43.9" width="0.9" height="0.9" fill="rgb(211,119,182)"/><rect x="90.3" y="46.4" width="1.2" height="1.2" fill="rgb(204,77,154)"/><rect x="41.5" y="94" width="1.2" height="1.2" fill="rgb(162,126,213)"/><rect x="54.3" y="79.2" width="1.2" height="1.2" fill="rgb(156,103,204)"/><rect x="76.1" y="59.8" width="1.2" height="1.2" fill="rgb(181,88,178)"/><rect x="53.9" y="66.1" width="0.9" height="0.9" fill="rgb(198,160,220)"/><rect x="35.6" y="85.3" width="1.2" height="1.2" fill="rgb(152,111,208)"/><rect x="89.6" y="34.8" width="0.9" height="0.9" fill="rgb(232,159,198)"/><rect x="52.8" y="82.2" width="1.2" height="1.2" fill="rgb(167,123,210)"/><rect x="61.4" y="75.3" width="0.9" height="0.9" fill="rgb(182,135,211)"/><rect x="64.2" y="71.4" width="1.2" height="1.2" fill="rgb(174,113,200)"/><rect x="111.4" y="26.2" width="1.2" height="1.2" fill="rgb(225,63,114)"/><rect x="86.9" y="39.2" width="1.2" height="1.2" fill="rgb(214,103,168)"/><rect x="79.7" y="47.1" width="1.2" height="1.2" fill="rgb(194,81,165)"/><rect x="51.9" y="82.9" width="1.2" height="1.2" fill="rgb(165,122,210)"/><rect x="45.3" y="75.9" width="1.2" height="1.2" fill="rgb(159,113,207)"/><rect x="61.1" y="76.2" width="0.9" height="0.9" fill="rgb(189,149,217)"/><rect x="68.5" y="55.5" width="1.2" height="1.2" fill="rgb(184,102,187)"/><rect x="84.7" y="41.6" width="1.2" height="1.2" fill="rgb(207,91,164)"/><rect x="40.9" y="94.2" width="1.2" height="1.2" fill="rgb(156,118,211)"/><rect x="48" y="87.3" width="1.2" height="1.2" fill="rgb(167,128,213)"/><rect x="78.2" y="46.9" width="1.2" height="1.2" fill="rgb(201,103,177)"/><rect x="45.3" y="89.7" width="1.2" height="1.2" fill="rgb(161,121,211)"/><rect x="48.9" y="87.5" width="0.9" height="0.9" fill="rgb(178,143,218)"/><rect x="109.3" y="29.3" width="1.2" height="1.2" fill="rgb(225,76,128)"/><rect x="76" y="60" width="1.2" height="1.2" fill="rgb(181,88,179)"/><rect x="86.2" y="52" width="1.2" height="1.2" fill="rgb(206,109,178)"/><rect x="33.3" y="87.6" width="1.2" height="1.2" fill="rgb(151,113,209)"/><rect x="84.5" y="39.6" width="0.9" height="0.9" fill="rgb(225,151,196)"/><rect x="90.4" y="35.7" width="0.9" height="0.9" fill="rgb(223,119,174)"/><rect x="77" y="47.3" width="0.9" height="0.9" fill="rgb(207,124,188)"/><rect x="110.7" y="34.7" width="0.9" height="0.9" fill="rgb(245,199,216)"/><rect x="48" y="73.9" width="1.2" height="1.2" fill="rgb(156,105,204)"/><rect x="103" y="34.8" width="1.2" height="1.2" fill="rgb(219,68,131)"/><rect x="89.6" y="38.1" width="1.2" height="1.2" fill="rgb(209,73,148)"/><rect x="54.2" y="79.9" width="1.2" height="1.2" fill="rgb(155,104,204)"/><rect x="69.3" y="65.9" width="1.2" height="1.2" fill="rgb(173,93,187)"/><rect x="56.3" y="80.5" width="0.9" height="0.9" fill="rgb(184,147,218)"/><rect x="40" y="94.6" width="1.2" height="1.2" fill="rgb(151,113,209)"/><rect x="63.7" y="71.4" width="1.2" height="1.2" fill="rgb(168,103,196)"/><rect x="44.2" y="89.5" width="1.2" height="1.2" fill="rgb(153,110,207)"/><rect x="51" y="70.2" width="1.2" height="1.2" fill="rgb(171,125,211)"/><rect x="90" y="51" width="0.9" height="0.9" fill="rgb(225,158,202)"/><rect x="49.5" y="84.9" width="1.2" height="1.2" fill="rgb(159,113,207)"/><rect x="108.4" y="22.4" width="1.2" height="1.2" fill="rgb(227,70,119)"/><rect x="89.4" y="35.3" width="0.9" height="0.9" fill="rgb(230,150,192)"/><rect x="64.6" y="70.2" width="1.2" height="1.2" fill="rgb(166,96,193)"/><rect x="70.1" y="64.7" width="1.2" height="1.2" fill="rgb(174,92,186)"/><rect x="89.9" y="37.4" width="1.2" height="1.2" fill="rgb(212,82,153)"/><rect x="96" y="32.2" width="1.2" height="1.2" fill="rgb(218,77,141)"/><rect x="76" y="49.5" width="1.2" height="1.2" fill="rgb(191,88,173)"/><rect x="71.5" y="64.6" width="1.2" height="1.2" fill="rgb(180,102,189)"/><rect x="105.6" y="24.1" width="1.2" height="1.2" fill="rgb(227,84,132)"/><rect x="101" y="28.3" width="1.2" height="1.2" fill="rgb(220,68,128)"/><rect x="98.7" y="30.3" width="1.2" height="1.2" fill="rgb(218,68,132)"/><rect x="97.3" y="31.9" width="1.2" height="1.2" fill="rgb(217,69,135)"/><rect x="46.5" y="74.1" width="0.9" height="0.9" fill="rgb(174,133,213)"/><rect x="107.7" y="32.6" width="0.9" height="0.9" fill="rgb(229,110,155)"/><rect x="58.7" y="64.9" width="1.2" height="1.2" fill="rgb(165,97,194)"/><rect x="78.6" y="57.2" width="1.2" height="1.2" fill="rgb(186,85,175)"/><rect x="49.5" y="73.2" width="1.2" height="1.2" fill="rgb(156,103,204)"/><rect x="69" y="54.6" width="0.9" height="0.9" fill="rgb(193,118,194)"/><rect x="41.7" y="79.4" width="1.2" height="1.2" fill="rgb(154,109,206)"/><rect x="86" y="53.3" width="0.9" height="0.9" fill="rgb(211,129,189)"/><rect x="73.4" y="51.9" width="1.2" height="1.2" fill="rgb(185,86,175)"/><rect x="104.5" y="33.4" width="1.2" height="1.2" fill="rgb(220,68,129)"/><rect x="100" y="37.9" width="1.2" height="1.2" fill="rgb(217,72,139)"/><rect x="82.8" y="43.8" width="1.2" height="1.2" fill="rgb(200,80,160)"/><rect x="84" y="41.6" width="1.2" height="1.2" fill="rgb(211,108,174)"/><rect x="92.5" y="34" width="0.9" height="0.9" fill="rgb(225,117,170)"/><rect x="73.3" y="50.9" width="0.9" height="0.9" fill="rgb(198,116,189)"/><rect x="102.3" y="37.5" width="0.9" height="0.9" fill="rgb(224,105,158)"/><rect x="99.1" y="29.1" width="1.2" height="1.2" fill="rgb(223,88,144)"/><rect x="63.6" y="70.7" width="1.2" height="1.2" fill="rgb(165,97,194)"/><rect x="94.2" y="43.4" width="1.2" height="1.2" fill="rgb(210,75,149)"/><rect x="39.4" y="79" width="0.9" height="0.9" fill="rgb(190,162,224)"/><rect x="66.8" y="58.1" width="1.2" height="1.2" fill="rgb(175,91,184)"/><rect x="90.9" y="36" width="1.2" height="1.2" fill="rgb(217,94,158)"/><rect x="69.1" y="55.1" width="1.2" height="1.2" fill="rgb(185,100,186)"/><rect x="57" y="60.4" width="0.9" height="0.9" fill="rgb(229,208,236)"/><rect x="86.5" y="49.9" width="1.2" height="1.2" fill="rgb(198,79,161)"/><rect x="39.8" y="95.3" width="1.2" height="1.2" fill="rgb(155,118,210)"/><rect x="103" y="24.6" width="0.9" height="0.9" fill="rgb(233,129,166)"/><rect x="91" y="48.4" width="0.9" height="0.9" fill="rgb(215,119,179)"/><rect x="66.7" y="67.8" width="1.2" height="1.2" fill="rgb(170,95,190)"/><rect x="44.8" y="75.1" width="0.9" height="0.9" fill="rgb(180,144,217)"/><rect x="69.1" y="56.1" width="1.2" height="1.2" fill="rgb(179,90,181)"/><rect x="49.2" y="70" width="0.9" height="0.9" fill="rgb(198,167,225)"/><rect x="98.4" y="39.6" width="1.2" height="1.2" fill="rgb(216,75,143)"/><rect x="82.4" y="53.7" width="1.2" height="1.2" fill="rgb(192,83,168)"/><rect x="64" y="71.7" width="1.2" height="1.2" fill="rgb(174,114,201)"/><rect x="48" y="85.5" width="1.2" height="1.2" fill="rgb(153,107,205)"/><rect x="105.6" y="23.4" width="0.9" height="0.9" fill="rgb(231,109,150)"/><rect x="99.7" y="40.2" width="0.9" height="0.9" fill="rgb(224,112,166)"/><rect x="100.9" y="27.3" width="1.2" height="1.2" fill="rgb(225,94,145)"/><rect x="82.1" y="44.3" width="1.2" height="1.2" fill="rgb(200,83,162)"/><rect x="83" y="38" width="0.9" height="0.9" fill="rgb(240,202,225)"/><rect x="93.1" y="34.9" width="1.2" height="1.2" fill="rgb(215,74,144)"/><rect x="106.6" y="19.8" width="0.9" height="0.9" fill="rgb(244,186,204)"/><rect x="85.8" y="41.7" width="1.2" height="1.2" fill="rgb(204,77,155)"/><rect x="105.9" y="31.7" width="1.2" height="1.2" fill="rgb(221,67,125)"/><rect x="96.1" y="24" width="0.9" height="0.9" fill="rgb(244,200,218)"/><rect x="68.2" y="67.7" width="1.2" height="1.2" fill="rgb(178,109,195)"/><rect x="53.4" y="81.3" width="1.2" height="1.2" fill="rgb(162,115,207)"/><rect x="76.6" y="59.3" width="1.2" height="1.2" fill="rgb(182,87,178)"/><rect x="45.1" y="77.1" width="1.2" height="1.2" fill="rgb(154,106,204)"/><rect x="53.5" y="81" width="1.2" height="1.2" fill="rgb(159,111,206)"/><rect x="103.7" y="34.9" width="1.2" height="1.2" fill="rgb(221,80,139)"/><rect x="111.9" y="29.3" width="0.9" height="0.9" fill="rgb(235,131,165)"/><rect x="46.3" y="89.8" width="0.9" height="0.9" fill="rgb(171,135,215)"/><rect x="46.2" y="75.7" width="1.2" height="1.2" fill="rgb(155,105,204)"/><rect x="98.5" y="38.9" width="1.2" height="1.2" fill="rgb(215,71,140)"/><rect x="67.7" y="68.6" width="1.2" height="1.2" fill="rgb(182,118,199)"/><rect x="77.8" y="47.6" width="1.2" height="1.2" fill="rgb(196,95,173)"/><rect x="62.4" y="79.9" width="0.9" height="0.9" fill="rgb(226,209,239)"/><rect x="90" y="37.8" width="1.2" height="1.2" fill="rgb(209,73,147)"/><rect x="109.4" y="21.8" width="1.2" height="1.2" fill="rgb(226,64,113)"/><rect x="82.6" y="54.7" width="1.2" height="1.2" fill="rgb(196,97,176)"/><rect x="74.6" y="61.4" width="1.2" height="1.2" fill="rgb(181,93,182)"/><rect x="102.1" y="25.9" width="0.9" height="0.9" fill="rgb(230,114,158)"/><rect x="61.2" y="62.3" width="1.2" height="1.2" fill="rgb(170,97,192)"/><rect x="95.3" y="42.2" width="1.2" height="1.2" fill="rgb(211,73,147)"/><rect x="105" y="32.8" width="1.2" height="1.2" fill="rgb(220,68,128)"/><rect x="49.5" y="72.3" width="1.2" height="1.2" fill="rgb(160,109,205)"/><rect x="58.1" y="64.6" width="1.2" height="1.2" fill="rgb(170,106,198)"/><rect x="43.3" y="78.4" width="1.2" height="1.2" fill="rgb(154,107,205)"/><rect x="71" y="66.5" width="0.9" height="0.9" fill="rgb(192,129,202)"/><rect x="83.9" y="53.4" width="1.2" height="1.2" fill="rgb(197,93,172)"/><rect x="109" y="28.5" width="1.2" height="1.2" fill="rgb(223,65,119)"/><rect x="58.7" y="64.4" width="1.2" height="1.2" fill="rgb(168,100,195)"/><rect x="108.6" y="29" width="1.2" height="1.2" fill="rgb(223,65,120)"/><rect x="74.4" y="61.9" width="1.2" height="1.2" fill="rgb(183,98,185)"/><rect x="51.5" y="83.2" width="1.2" height="1.2" fill="rgb(164,120,209)"/><rect x="53.3" y="80.6" width="1.2" height="1.2" fill="rgb(155,104,204)"/><rect x="75" y="61" width="1.2" height="1.2" fill="rgb(181,91,181)"/><rect x="47.7" y="89.7" width="0.9" height="0.9" fill="rgb(188,158,223)"/><rect x="71.7" y="63.5" width="1.2" height="1.2" fill="rgb(176,91,184)"/><rect x="86.1" y="53.3" width="0.9" height="0.9" fill="rgb(212,130,190)"/><rect x="109.7" y="22.1" width="1.2" height="1.2" fill="rgb(226,63,113)"/><rect x="105.2" y="25.3" width="1.2" height="1.2" fill="rgb(223,65,120)"/><rect x="53.8" y="69.2" width="1.2" height="1.2" fill="rgb(158,101,200)"/><rect x="71.5" y="52.2" width="1.2" height="1.2" fill="rgb(196,116,191)"/><rect x="72.1" y="64.6" width="1.2" height="1.2" fill="rgb(186,114,194)"/><rect x="63.5" y="72.1" width="1.2" height="1.2" fill="rgb(173,113,201)"/><rect x="105.7" y="31.9" width="1.2" height="1.2" fill="rgb(221,67,126)"/><rect x="58.6" y="75.8" width="1.2" height="1.2" fill="rgb(158,102,201)"/><rect x="95.9" y="31.4" width="1.2" height="1.2" fill="rgb(223,100,155)"/><rect x="45.9" y="87.9" width="1.2" height="1.2" fill="rgb(153,108,206)"/><rect x="45.1" y="89.7" width="1.2" height="1.2" fill="rgb(157,116,209)"/><rect x="53.7" y="80.1" width="1.2" height="1.2" fill="rgb(155,104,204)"/><rect x="76.3" y="61.4" width="0.9" height="0.9" fill="rgb(194,118,192)"/><rect x="111.3" y="28.8" width="0.9" height="0.9" fill="rgb(231,106,147)"/><rect x="60.7" y="73.6" width="1.2" height="1.2" fill="rgb(161,99,198)"/><rect x="74.7" y="60.5" width="1.2" height="1.2" fill="rgb(181,89,180)"/><rect x="43" y="91.2" width="1.2" height="1.2" fill="rgb(152,111,208)"/><rect x="51.8" y="68.8" width="0.9" height="0.9" fill="rgb(185,145,216)"/><rect x="33.5" y="86.2" width="1.2" height="1.2" fill="rgb(159,122,212)"/><rect x="82.6" y="44.5" width="1.2" height="1.2" fill="rgb(198,79,160)"/><rect x="85.6" y="40.1" width="1.2" height="1.2" fill="rgb(213,107,171)"/><rect x="92.5" y="44.4" width="1.2" height="1.2" fill="rgb(207,75,151)"/><rect x="50.3" y="83.1" width="1.2" height="1.2" fill="rgb(154,106,204)"/><rect x="76" y="60.1" width="1.2" height="1.2" fill="rgb(182,90,180)"/><rect x="62.6" y="61.2" width="1.2" height="1.2" fill="rgb(170,94,189)"/><rect x="69.4" y="66.6" width="1.2" height="1.2" fill="rgb(179,107,193)"/><rect x="92.6" y="34.1" width="0.9" height="0.9" fill="rgb(223,111,167)"/><rect x="104" y="36.6" width="0.9" height="0.9" fill="rgb(228,122,167)"/><rect x="111.4" y="26.8" width="1.2" height="1.2" fill="rgb(225,67,118)"/><rect x="77.8" y="58.9" width="1.2" height="1.2" fill="rgb(188,97,181)"/><rect x="101.3" y="37.9" width="1.2" height="1.2" fill="rgb(222,99,156)"/><rect x="77.1" y="49.1" width="1.2" height="1.2" fill="rgb(191,83,170)"/><rect x="90.9" y="34.8" width="0.9" height="0.9" fill="rgb(226,130,180)"/><rect x="64.3" y="72.8" width="0.9" height="0.9" fill="rgb(187,137,210)"/><rect x="107.4" y="33.4" width="0.9" height="0.9" fill="rgb(230,120,162)"/><rect x="61.5" y="61.5" width="1.2" height="1.2" fill="rgb(178,110,196)"/><rect x="49.9" y="71.9" width="1.2" height="1.2" fill="rgb(161,112,206)"/><rect x="37.9" y="77.2" width="0.9" height="0.9" fill="rgb(225,212,240)"/><rect x="110.6" y="26.9" width="1.2" height="1.2" fill="rgb(225,64,116)"/><rect x="33.1" y="86.1" width="1.2" height="1.2" fill="rgb(164,130,214)"/><rect x="49.4" y="84.2" width="1.2" height="1.2" fill="rgb(154,107,205)"/><rect x="82.6" y="41.6" width="0.9" height="0.9" fill="rgb(221,142,193)"/><rect x="73.6" y="51.4" width="1.2" height="1.2" fill="rgb(189,94,179)"/><rect x="50.6" y="83.9" width="1.2" height="1.2" fill="rgb(160,115,208)"/><rect x="58.9" y="75.4" width="1.2" height="1.2" fill="rgb(158,101,200)"/><rect x="70.8" y="65.2" width="1.2" height="1.2" fill="rgb(179,103,190)"/><rect x="101.2" y="38.1" width="1.2" height="1.2" fill="rgb(223,101,157)"/><rect x="80.4" y="59.9" width="0.9" height="0.9" fill="rgb(217,163,212)"/><rect x="66.6" y="55.8" width="0.9" height="0.9" fill="rgb(200,139,204)"/><rect x="50.9" y="88.5" width="0.9" height="0.9" fill="rgb(216,199,236)"/><rect x="59.9" y="64" width="1.2" height="1.2" fill="rgb(167,96,192)"/><rect x="104.5" y="26" width="1.2" height="1.2" fill="rgb(222,66,122)"/><rect x="94.5" y="44.1" width="1.2" height="1.2" fill="rgb(215,100,163)"/></g><polygon points="35.6,100.9 39.3,96.9 42.9,92.8 46.6,88.9 50.3,84.9 54.2,81.1 58.1,77.4 62.1,73.8 66,70.1 70.1,66.5 74.1,62.9 78.1,59.3 82.1,55.7 86.1,52 90,48.3 94,44.6 97.9,40.9 101.9,37.2 105.8,33.6 109.6,29.7 113.4,25.8 110.3,22.3 106,25.6 101.7,28.9 97.6,32.4 93.5,35.9 89.3,39.4 85.2,42.9 81.1,46.4 77,49.9 72.9,53.4 68.8,56.9 64.7,60.5 60.7,64 56.6,67.6 52.5,71.1 48.4,74.7 44.4,78.2 40.3,81.8 36.3,85.4 32.3,88.9 28.2,92.5" fill="url(#gA)"/><polygon points="32.7,97.6 36.6,93.9 40.6,90.2 44.5,86.5 48.5,82.9 52.5,79.2 56.5,75.6 60.5,72 64.5,68.4 68.6,64.8 72.6,61.2 76.6,57.6 80.6,54 84.6,50.3 88.6,46.7 92.6,43.1 96.7,39.5 100.7,35.9 104.7,32.2 108.6,28.5 112.5,24.8 111.1,23.2 106.9,26.7 102.8,30.1 98.7,33.7 94.6,37.2 90.6,40.7 86.5,44.3 82.4,47.8 78.3,51.4 74.3,54.9 70.2,58.5 66.2,62.1 62.1,65.6 58,69.2 54,72.7 49.9,76.3 45.8,79.8 41.7,83.3 37.6,86.8 33.5,90.3 29.3,93.8" fill="#3a1060" opacity="0.22"/></g><line x1="36" y1="96.4" x2="46" y2="96.4" stroke="#b0a0d8" stroke-width="0.8" /><line x1="31.6" y1="79.5" x2="31.6" y2="95" stroke="#a8a0c8" stroke-width="0.6" /><line x1="33.4" y1="82.3" x2="33.4" y2="95" stroke="#a8a0c8" stroke-width="0.6" /><line x1="35.4" y1="80.4" x2="35.4" y2="95" stroke="#a8a0c8" stroke-width="0.6" /><line x1="33" y1="84.5" x2="115" y2="14.5" stroke="#d86a8a" stroke-width="0.5" stroke-dasharray="1.4 1.1"/><line x1="42" y1="96" x2="118" y2="21" stroke="#d86a8a" stroke-width="0.5" stroke-dasharray="1.4 1.1"/><line x1="27.5" y1="13" x2="27.5" y2="101.5" stroke="#555" stroke-width="1" /><line x1="27" y1="101.5" x2="119.5" y2="101.5" stroke="#555" stroke-width="1" /><text x="25.2" y="27.6" font-size="8.7" text-anchor="end" fill="#1e1e1e" stroke="#1e1e1e" stroke-width="0.12" >15</text><text x="25.2" y="52.1" font-size="8.7" text-anchor="end" fill="#1e1e1e" stroke="#1e1e1e" stroke-width="0.12" >10</text><text x="25.2" y="76.3" font-size="8.7" text-anchor="end" fill="#1e1e1e" stroke="#1e1e1e" stroke-width="0.12" >5</text><text x="25.2" y="99.7" font-size="8.7" text-anchor="end" fill="#1e1e1e" stroke="#1e1e1e" stroke-width="0.12" >0</text><text x="31.8" y="109" font-size="8.7" text-anchor="middle" fill="#1e1e1e" stroke="#1e1e1e" stroke-width="0.12" >0</text><text x="57.2" y="109" font-size="8.7" text-anchor="middle" fill="#1e1e1e" stroke="#1e1e1e" stroke-width="0.12" >5</text><text x="84.3" y="109" font-size="8.7" text-anchor="middle" fill="#1e1e1e" stroke="#1e1e1e" stroke-width="0.12" >10</text><text x="109.3" y="109" font-size="8.7" text-anchor="middle" fill="#1e1e1e" stroke="#1e1e1e" stroke-width="0.12" >15</text><text x="72.9" y="116.1" font-size="8.5" text-anchor="middle" fill="#1e1e1e" stroke="#1e1e1e" stroke-width="0.12"  textLength="36.2" lengthAdjust="spacing">Bach2-WT</text><text x="15.6" y="52" font-size="8.5" text-anchor="middle" fill="#1e1e1e" stroke="#1e1e1e" stroke-width="0.12" transform="rotate(-90 15.6 52)"  textLength="38.6" lengthAdjust="spacing">Bach2-cKO</text><text x="80" y="17.9" font-size="5.9" text-anchor="start" fill="#333" stroke="#333" stroke-width="0.15" font-style="italic">CXCR5</text><text x="43.1" y="29.8" font-size="5.9" text-anchor="start" fill="#333" stroke="#333" stroke-width="0.15" font-style="italic">Gzmb</text><text x="61.6" y="32.6" font-size="5.9" text-anchor="start" fill="#333" stroke="#333" stroke-width="0.15" font-style="italic">Tbx21</text><text x="53.3" y="39.9" font-size="5.9" text-anchor="start" fill="#333" stroke="#333" stroke-width="0.15" font-style="italic">Ifng</text><text x="74.5" y="36.9" font-size="5.9" text-anchor="start" fill="#333" stroke="#333" stroke-width="0.15" font-style="italic">Bcl6</text><text x="35" y="53.2" font-size="5.9" text-anchor="start" fill="#333" stroke="#333" stroke-width="0.15" font-style="italic">Prdm1</text><text x="27.6" y="71.8" font-size="5.9" text-anchor="start" fill="#333" stroke="#333" stroke-width="0.15" font-style="italic">Ascl2</text><line x1="51.2" y1="30.6" x2="52.3" y2="50.5" stroke="#8a8a8a" stroke-width="0.6" /><line x1="52.3" y1="50.5" x2="58.5" y2="58" stroke="#8a8a8a" stroke-width="0.6" /><line x1="46.7" y1="53.6" x2="56.5" y2="58" stroke="#8a8a8a" stroke-width="0.6" /><line x1="56.8" y1="41.5" x2="60.2" y2="58" stroke="#8a8a8a" stroke-width="0.6" /><line x1="66.3" y1="33.2" x2="62.4" y2="57.5" stroke="#8a8a8a" stroke-width="0.6" /><line x1="85" y1="19" x2="85.5" y2="37.5" stroke="#8a8a8a" stroke-width="0.6" /><line x1="79.2" y1="38" x2="76.2" y2="48.4" stroke="#8a8a8a" stroke-width="0.6" /><line x1="33.2" y1="72.6" x2="33.2" y2="91" stroke="#8a8a8a" stroke-width="0.6" /><rect x="154.5" y="8.6" width="3.2" height="2.4" fill="#fff" stroke="#1a1a1a" stroke-width="0.8" /><text x="161.3" y="12.6" font-size="8.6" text-anchor="start" fill="#111" stroke="#111" stroke-width="0.12"  textLength="57.6" lengthAdjust="spacing">OT-II Bach2-WT</text><rect x="220.6" y="8.4" width="3.6" height="2.8" fill="#1a1a1a" stroke="none" stroke-width="1" /><text x="227.1" y="12.6" font-size="8.6" text-anchor="start" fill="#111" stroke="#111" stroke-width="0.12"  textLength="60.6" lengthAdjust="spacing">OT-II Bach2-cKO</text><line x1="142" y1="18" x2="142" y2="61.9" stroke="#1a1a1a" stroke-width="1" /><line x1="142" y1="68.5" x2="142" y2="87.8" stroke="#1a1a1a" stroke-width="1" /><line x1="139.5" y1="18.6" x2="142" y2="18.6" stroke="#1a1a1a" stroke-width="1" /><text x="139.7" y="21.6" font-size="8.6" text-anchor="end" fill="#111" stroke="#111" stroke-width="0.12" >30</text><line x1="139.5" y1="40.3" x2="142" y2="40.3" stroke="#1a1a1a" stroke-width="1" /><text x="139.7" y="43.3" font-size="8.6" text-anchor="end" fill="#111" stroke="#111" stroke-width="0.12" >20</text><line x1="139.5" y1="62" x2="142" y2="62" stroke="#1a1a1a" stroke-width="1" /><text x="139.7" y="65" font-size="8.6" text-anchor="end" fill="#111" stroke="#111" stroke-width="0.12" >10</text><line x1="139.5" y1="68.8" x2="142" y2="68.8" stroke="#1a1a1a" stroke-width="1" /><text x="139.7" y="71.8" font-size="8.6" text-anchor="end" fill="#111" stroke="#111" stroke-width="0.12" >4</text><line x1="139.5" y1="78" x2="142" y2="78" stroke="#1a1a1a" stroke-width="1" /><text x="139.7" y="81" font-size="8.6" text-anchor="end" fill="#111" stroke="#111" stroke-width="0.12" >2</text><line x1="139.5" y1="87.3" x2="142" y2="87.3" stroke="#1a1a1a" stroke-width="1" /><text x="139.7" y="90.3" font-size="8.6" text-anchor="end" fill="#111" stroke="#111" stroke-width="0.12" >0</text><rect x="145.8" y="80.5" width="3.6" height="6.8" fill="#fff" stroke="#111" stroke-width="1" /><rect x="152.1" y="78.4" width="4.7" height="8.9" fill="#111" stroke="none" stroke-width="1" /><line x1="154.4" y1="75.4" x2="154.4" y2="78.4" stroke="#111" stroke-width="0.8" /><line x1="152.9" y1="75.4" x2="155.9" y2="75.4" stroke="#111" stroke-width="0.8" /><rect x="162.9" y="83.1" width="3.6" height="4.2" fill="#fff" stroke="#111" stroke-width="1" /><line x1="164.7" y1="77.4" x2="164.7" y2="82.6" stroke="#111" stroke-width="0.8" /><line x1="163.2" y1="77.4" x2="166.2" y2="77.4" stroke="#111" stroke-width="0.8" /><rect x="169.2" y="85" width="4.8" height="2.3" fill="#111" stroke="none" stroke-width="1" /><rect x="180" y="78.9" width="4" height="8.4" fill="#fff" stroke="#111" stroke-width="1" /><line x1="182" y1="73.7" x2="182" y2="78.4" stroke="#111" stroke-width="0.8" /><line x1="180.5" y1="73.7" x2="183.5" y2="73.7" stroke="#111" stroke-width="0.8" /><rect x="197.1" y="53.8" width="4.2" height="33.5" fill="#fff" stroke="#111" stroke-width="1" /><line x1="199.2" y1="40.8" x2="199.2" y2="53.3" stroke="#111" stroke-width="0.8" /><line x1="197.7" y1="40.8" x2="200.7" y2="40.8" stroke="#111" stroke-width="0.8" /><rect x="196.1" y="61.9" width="6.2" height="6.6" fill="#fff" stroke="none" stroke-width="1" /><line x1="141.5" y1="87.3" x2="210.7" y2="87.3" stroke="#1a1a1a" stroke-width="1" /><line x1="151.1" y1="87.3" x2="151.1" y2="89.6" stroke="#1a1a1a" stroke-width="1" /><line x1="167.7" y1="87.3" x2="167.7" y2="89.6" stroke="#1a1a1a" stroke-width="1" /><line x1="184.9" y1="87.3" x2="184.9" y2="89.6" stroke="#1a1a1a" stroke-width="1" /><line x1="202" y1="87.3" x2="202" y2="89.6" stroke="#1a1a1a" stroke-width="1" /><text x="190.5" y="38.4" font-size="7" text-anchor="middle" fill="#111" stroke="#111" stroke-width="0.12" >***</text><line x1="183" y1="36.7" x2="198.4" y2="36.7" stroke="#1a1a1a" stroke-width="0.9" /><text x="129.2" y="49.6" font-size="8.5" text-anchor="middle" fill="#111" stroke="#111" stroke-width="0.12" transform="rotate(-90 129.2 49.6)"  textLength="68.5" lengthAdjust="spacing"><tspan font-style="italic">Ascl2</tspan> mRNA (fold)</text><text x="155.3" y="94.8" font-size="8.5" text-anchor="end" fill="#111" stroke="#111" stroke-width="0.12" transform="rotate(-45 155.3 94.8)"  textLength="21.3" lengthAdjust="spacing">Day 0</text><text x="171.9" y="94.8" font-size="8.5" text-anchor="end" fill="#111" stroke="#111" stroke-width="0.12" transform="rotate(-45 171.9 94.8)"  textLength="21.3" lengthAdjust="spacing">Day 3</text><text x="189.1" y="94.8" font-size="8.5" text-anchor="end" fill="#111" stroke="#111" stroke-width="0.12" transform="rotate(-45 189.1 94.8)"  textLength="49" lengthAdjust="spacing">Day 7 nonTfh</text><text x="206.2" y="94.8" font-size="8.5" text-anchor="end" fill="#111" stroke="#111" stroke-width="0.12" transform="rotate(-45 206.2 94.8)"  textLength="35.2" lengthAdjust="spacing">Day 7 Tfh</text><line x1="234.4" y1="17.4" x2="234.4" y2="87.9" stroke="#1a1a1a" stroke-width="1" /><line x1="231.9" y1="18.4" x2="234.4" y2="18.4" stroke="#1a1a1a" stroke-width="1" /><text x="231.6" y="21.4" font-size="8.6" text-anchor="end" fill="#111" stroke="#111" stroke-width="0.12" >80</text><line x1="231.9" y1="35.8" x2="234.4" y2="35.8" stroke="#1a1a1a" stroke-width="1" /><text x="231.6" y="38.8" font-size="8.6" text-anchor="end" fill="#111" stroke="#111" stroke-width="0.12" >60</text><line x1="231.9" y1="53.1" x2="234.4" y2="53.1" stroke="#1a1a1a" stroke-width="1" /><text x="231.6" y="56.1" font-size="8.6" text-anchor="end" fill="#111" stroke="#111" stroke-width="0.12" >40</text><line x1="231.9" y1="70.3" x2="234.4" y2="70.3" stroke="#1a1a1a" stroke-width="1" /><text x="231.6" y="73.3" font-size="8.6" text-anchor="end" fill="#111" stroke="#111" stroke-width="0.12" >20</text><line x1="231.9" y1="87.5" x2="234.4" y2="87.5" stroke="#1a1a1a" stroke-width="1" /><text x="231.6" y="90.5" font-size="8.6" text-anchor="end" fill="#111" stroke="#111" stroke-width="0.12" >0</text><rect x="238.5" y="86.9" width="3.3" height="0.6" fill="#fff" stroke="#111" stroke-width="1" /><rect x="244.2" y="86.8" width="4.5" height="0.7" fill="#111" stroke="none" stroke-width="1" /><rect x="255.8" y="83.8" width="3.6" height="3.7" fill="#fff" stroke="#111" stroke-width="1" /><rect x="262" y="63.3" width="4.5" height="24.2" fill="#111" stroke="none" stroke-width="1" /><rect x="273.1" y="80.8" width="4" height="6.7" fill="#fff" stroke="#111" stroke-width="1" /><rect x="290.7" y="31.7" width="3.9" height="55.8" fill="#fff" stroke="#111" stroke-width="1" /><line x1="292.6" y1="24.7" x2="292.6" y2="31.2" stroke="#111" stroke-width="0.8" /><line x1="291.1" y1="24.7" x2="294.1" y2="24.7" stroke="#111" stroke-width="0.8" /><line x1="233.9" y1="87.5" x2="300.5" y2="87.5" stroke="#1a1a1a" stroke-width="1" /><line x1="243" y1="87.5" x2="243" y2="89.8" stroke="#1a1a1a" stroke-width="1" /><line x1="260.5" y1="87.5" x2="260.5" y2="89.8" stroke="#1a1a1a" stroke-width="1" /><line x1="278.3" y1="87.5" x2="278.3" y2="89.8" stroke="#1a1a1a" stroke-width="1" /><line x1="295.3" y1="87.5" x2="295.3" y2="89.8" stroke="#1a1a1a" stroke-width="1" /><text x="260.5" y="62.2" font-size="7" text-anchor="middle" fill="#111" stroke="#111" stroke-width="0.12" >***</text><line x1="256.4" y1="60.7" x2="264.6" y2="60.7" stroke="#1a1a1a" stroke-width="0.9" /><text x="285.1" y="21.2" font-size="7" text-anchor="middle" fill="#111" stroke="#111" stroke-width="0.12" >***</text><line x1="276.5" y1="19.7" x2="294.3" y2="19.7" stroke="#1a1a1a" stroke-width="0.9" /><text x="220.2" y="51.5" font-size="8.5" text-anchor="middle" fill="#111" stroke="#111" stroke-width="0.12" transform="rotate(-90 220.2 51.5)"  textLength="71.5" lengthAdjust="spacing"><tspan font-style="italic">CXCR5</tspan> mRNA (fold)</text><text x="247.2" y="95" font-size="8.5" text-anchor="end" fill="#111" stroke="#111" stroke-width="0.12" transform="rotate(-45 247.2 95)"  textLength="21.3" lengthAdjust="spacing">Day 0</text><text x="264.7" y="95" font-size="8.5" text-anchor="end" fill="#111" stroke="#111" stroke-width="0.12" transform="rotate(-45 264.7 95)"  textLength="21.3" lengthAdjust="spacing">Day 3</text><text x="282.5" y="95" font-size="8.5" text-anchor="end" fill="#111" stroke="#111" stroke-width="0.12" transform="rotate(-45 282.5 95)"  textLength="49" lengthAdjust="spacing">Day 7 nonTfh</text><text x="299.5" y="95" font-size="8.5" text-anchor="end" fill="#111" stroke="#111" stroke-width="0.12" transform="rotate(-45 299.5 95)"  textLength="35.2" lengthAdjust="spacing">Day 7 Tfh</text><rect x="329.8" y="7.9" width="4.4" height="4.6" fill="#8a8a8a" stroke="none" stroke-width="1" /><rect x="330.3" y="17.4" width="3.9" height="4.1" fill="#fff" stroke="#6a80c8" stroke-width="0.9" /><rect x="330.3" y="26.6" width="3.9" height="4.1" fill="#fff" stroke="#d87878" stroke-width="0.9" /><text x="339.2" y="12.8" font-size="8.6" text-anchor="start" fill="#111" stroke="#111" stroke-width="0.12"  textLength="67.2" lengthAdjust="spacing">Endogenous T cell</text><text x="339.2" y="21.7" font-size="8.6" text-anchor="start" fill="#111" stroke="#111" stroke-width="0.12"  textLength="72.2" lengthAdjust="spacing">OT-II Bach2-WT Tfh</text><text x="339.2" y="30.5" font-size="8.6" text-anchor="start" fill="#111" stroke="#111" stroke-width="0.12"  textLength="75.2" lengthAdjust="spacing">OT-II Bach2-cKO Tfh</text><rect x="328" y="35.6" width="87" height="51.5" fill="#fff" stroke="#ddd" stroke-width="0.6" /><path d="M330,86.8 L330.7,86.6 L331.4,86.4 L332.2,86 L332.9,85.4 L333.6,84.6 L334.3,83.5 L335,82 L335.7,80 L336.5,77.4 L337.2,74.4 L337.9,70.7 L338.6,66.6 L339.3,62.1 L340.1,57.4 L340.8,52.8 L341.5,48.5 L342.2,44.8 L342.9,42 L343.6,40.2 L344.4,39.7 L345.1,40.4 L345.8,42.4 L346.5,45.4 L347.2,49.2 L347.9,53.5 L348.7,58.2 L349.4,62.9 L350.1,67.3 L350.8,71.4 L351.5,74.9 L352.3,77.9 L353,80.3 L353.7,82.2 L354.4,83.7 L355.1,84.8 L355.8,85.5 L356.6,86.1 L357.3,86.4 L358,86.6 Z" fill="#8a8a8a" stroke="#555" stroke-width="0.6"/><path d="M358,87 L360,86 L362,82 L364,75 L366,69 L368,64 L369.5,63.5 L371,66.5 L372.5,64 L374,60.5 L375.3,59.5 L376.5,61.5 L377.5,62.5 L379,61 L380.5,64 L382,69.5 L383.5,72.5 L385,74 L386.5,78 L388,82 L390,84.5 L392,86 L395,87" fill="none" stroke="#d07884" stroke-width="0.8"/><path d="M358,87 L360,86 L362,81 L364,74 L366,68.5 L368,65 L369.5,64 L371,67 L372.5,69 L374,70 L375.5,71 L377,73 L378.5,74 L380,77.5 L381.5,80 L383,83 L384.5,85.5 L386.5,87" fill="none" stroke="#6e8cc0" stroke-width="0.8"/><line x1="327" y1="37.9" x2="328.5" y2="37.9" stroke="#555" stroke-width="0.5" /><text x="326.3" y="38.9" font-size="2.8" text-anchor="end" fill="#555" stroke="#555" stroke-width="0.12" >100</text><line x1="327" y1="47.7" x2="328.5" y2="47.7" stroke="#555" stroke-width="0.5" /><text x="326.3" y="48.7" font-size="2.8" text-anchor="end" fill="#555" stroke="#555" stroke-width="0.12" >80</text><line x1="327" y1="57.6" x2="328.5" y2="57.6" stroke="#555" stroke-width="0.5" /><text x="326.3" y="58.6" font-size="2.8" text-anchor="end" fill="#555" stroke="#555" stroke-width="0.12" >60</text><line x1="327" y1="67.4" x2="328.5" y2="67.4" stroke="#555" stroke-width="0.5" /><text x="326.3" y="68.4" font-size="2.8" text-anchor="end" fill="#555" stroke="#555" stroke-width="0.12" >40</text><line x1="327" y1="77.3" x2="328.5" y2="77.3" stroke="#555" stroke-width="0.5" /><text x="326.3" y="78.3" font-size="2.8" text-anchor="end" fill="#555" stroke="#555" stroke-width="0.12" >20</text><line x1="327" y1="87" x2="328.5" y2="87" stroke="#555" stroke-width="0.5" /><text x="326.3" y="88" font-size="2.8" text-anchor="end" fill="#555" stroke="#555" stroke-width="0.12" >0</text><line x1="336" y1="87" x2="336" y2="88.3" stroke="#555" stroke-width="0.5" /><line x1="346" y1="87" x2="346" y2="88.3" stroke="#555" stroke-width="0.5" /><line x1="356" y1="87" x2="356" y2="88.3" stroke="#555" stroke-width="0.5" /><line x1="366" y1="87" x2="366" y2="88.3" stroke="#555" stroke-width="0.5" /><line x1="376" y1="87" x2="376" y2="88.3" stroke="#555" stroke-width="0.5" /><line x1="386" y1="87" x2="386" y2="88.3" stroke="#555" stroke-width="0.5" /><line x1="396" y1="87" x2="396" y2="88.3" stroke="#555" stroke-width="0.5" /><line x1="406" y1="87" x2="406" y2="88.3" stroke="#555" stroke-width="0.5" /><text x="371.8" y="98.8" font-size="8.8" text-anchor="middle" fill="#111" stroke="#111" stroke-width="0.12"  textLength="26.1" lengthAdjust="spacing">CXCR5</text><text x="318.4" y="57.3" font-size="8.6" text-anchor="middle" fill="#111" stroke="#111" stroke-width="0.12" transform="rotate(-90 318.4 57.3)"  textLength="64.6" lengthAdjust="spacing">Events (% of max)</text><circle cx="428" cy="13.4" r="1.7" fill="#fff" stroke="#1a1a1a" stroke-width="0.7"/><circle cx="428" cy="21.9" r="1.8" fill="#1a1a1a"/><text x="431.8" y="15.9" font-size="8.6" text-anchor="start" fill="#111" stroke="#111" stroke-width="0.12"  textLength="73.2" lengthAdjust="spacing">OT-II Bach2-WT Tfh</text><text x="431.8" y="24.6" font-size="8.6" text-anchor="start" fill="#111" stroke="#111" stroke-width="0.12"  textLength="76.1" lengthAdjust="spacing">OT-II Bach2-cKO Tfh</text><line x1="453.8" y1="33" x2="453.8" y2="91.6" stroke="#1a1a1a" stroke-width="0.9" /><line x1="451.8" y1="33.6" x2="453.8" y2="33.6" stroke="#1a1a1a" stroke-width="0.9" /><text x="450.3" y="36.5" font-size="8.0" text-anchor="end" fill="#111" stroke="#111" stroke-width="0.12" >3000</text><line x1="451.8" y1="48" x2="453.8" y2="48" stroke="#1a1a1a" stroke-width="0.9" /><text x="450.3" y="50.9" font-size="8.0" text-anchor="end" fill="#111" stroke="#111" stroke-width="0.12" >2500</text><line x1="451.8" y1="62.2" x2="453.8" y2="62.2" stroke="#1a1a1a" stroke-width="0.9" /><text x="450.3" y="65.1" font-size="8.0" text-anchor="end" fill="#111" stroke="#111" stroke-width="0.12" >2000</text><line x1="451.8" y1="76.6" x2="453.8" y2="76.6" stroke="#1a1a1a" stroke-width="0.9" /><text x="450.3" y="79.5" font-size="8.0" text-anchor="end" fill="#111" stroke="#111" stroke-width="0.12" >1500</text><line x1="451.8" y1="91" x2="453.8" y2="91" stroke="#1a1a1a" stroke-width="0.9" /><text x="450.3" y="93.9" font-size="8.0" text-anchor="end" fill="#111" stroke="#111" stroke-width="0.12" >1000</text><line x1="453.4" y1="91.2" x2="493" y2="91.2" stroke="#1a1a1a" stroke-width="0.9" /><line x1="463.7" y1="91.2" x2="463.7" y2="93.2" stroke="#1a1a1a" stroke-width="0.9" /><line x1="483.8" y1="91.2" x2="483.8" y2="93.2" stroke="#1a1a1a" stroke-width="0.9" /><circle cx="460.5" cy="70.9" r="1.6" fill="#fff" stroke="#1a1a1a" stroke-width="0.6"/><circle cx="463.7" cy="69.5" r="1.6" fill="#fff" stroke="#1a1a1a" stroke-width="0.6"/><circle cx="466.9" cy="70.7" r="1.6" fill="#fff" stroke="#1a1a1a" stroke-width="0.6"/><circle cx="460.1" cy="73.7" r="1.6" fill="#fff" stroke="#1a1a1a" stroke-width="0.6"/><circle cx="463.7" cy="73.5" r="1.6" fill="#fff" stroke="#1a1a1a" stroke-width="0.6"/><circle cx="467.1" cy="73.3" r="1.6" fill="#fff" stroke="#1a1a1a" stroke-width="0.6"/><circle cx="462.1" cy="75.9" r="1.6" fill="#fff" stroke="#1a1a1a" stroke-width="0.6"/><circle cx="465.3" cy="76.1" r="1.6" fill="#fff" stroke="#1a1a1a" stroke-width="0.6"/><line x1="460" y1="72.5" x2="467.5" y2="72.5" stroke="#1a1a1a" stroke-width="0.7" /><circle cx="478.8" cy="42.7" r="1.7" fill="#1a1a1a"/><circle cx="482.3" cy="43.7" r="1.7" fill="#1a1a1a"/><circle cx="485.8" cy="42.5" r="1.7" fill="#1a1a1a"/><circle cx="489.3" cy="42.9" r="1.7" fill="#1a1a1a"/><circle cx="480.8" cy="46.4" r="1.7" fill="#1a1a1a"/><circle cx="483.8" cy="47.2" r="1.7" fill="#1a1a1a"/><circle cx="486.8" cy="46.1" r="1.7" fill="#1a1a1a"/><circle cx="482.4" cy="49.8" r="1.7" fill="#1a1a1a"/><circle cx="485.2" cy="49.6" r="1.7" fill="#1a1a1a"/><line x1="480" y1="45.3" x2="487.6" y2="45.3" stroke="#1a1a1a" stroke-width="0.7" /><text x="473.4" y="39.5" font-size="7" text-anchor="middle" fill="#111" stroke="#111" stroke-width="0.12" >***</text><line x1="464.7" y1="37.6" x2="480" y2="37.6" stroke="#1a1a1a" stroke-width="0.9" /><text x="429.1" y="59.9" font-size="8.6" text-anchor="middle" fill="#111" stroke="#111" stroke-width="0.12" transform="rotate(-90 429.1 59.9)"  textLength="43.4" lengthAdjust="spacing">CXCR5 MFI</text><text x="44.8" y="137.6" font-size="8.5" text-anchor="middle" fill="#333" stroke="#333" stroke-width="0.12"  textLength="18.4" lengthAdjust="spacing">OT-II</text><text x="44.5" y="147" font-size="8.5" text-anchor="middle" fill="#333" stroke="#333" stroke-width="0.12"  textLength="36.2" lengthAdjust="spacing">Bach2-WT</text><text x="138.9" y="137.6" font-size="8.5" text-anchor="middle" fill="#333" stroke="#333" stroke-width="0.12"  textLength="18.6" lengthAdjust="spacing">OT-II</text><text x="139.1" y="147" font-size="8.5" text-anchor="middle" fill="#333" stroke="#333" stroke-width="0.12"  textLength="40.3" lengthAdjust="spacing">Bach2-cKO</text><text x="124.4" y="252.3" font-size="8.5" text-anchor="start" fill="#8cbf78" stroke="#8cbf78" stroke-width="0.12"  textLength="18.2" lengthAdjust="spacing">OT-II</text><text x="146.8" y="252.3" font-size="8.5" text-anchor="start" fill="#5058a8" stroke="#5058a8" stroke-width="0.12"  textLength="12.7" lengthAdjust="spacing">IgD</text><text x="161.3" y="252.3" font-size="8.5" text-anchor="start" fill="#d66050" stroke="#d66050" stroke-width="0.12"  textLength="20.5" lengthAdjust="spacing">CD35</text><g clip-path="url(#c1)"><rect x="0.8" y="150.4" width="88.8" height="89.2" fill="#090b0f" stroke="none" stroke-width="1" /><g filter="url(#bgs)"><path d="M-5,145 L95,145 L95,228 Q60,224 30,219 Q10,216 -5,215 Z" fill="#181744"/><ellipse cx="10" cy="160" rx="20" ry="12" fill="#202060"/></g><g filter="url(#sts)"><path d="M11,179 Q17,173 25,175" stroke="#6a5ee8" stroke-width="3.5" fill="none"/><path d="M57,172.7 Q50,168 40,170 Q30,172.5 27,180 Q22,190 24,196 Q27,201 34,199.5" stroke="#9a70ec" stroke-width="5.2" fill="none"/><path d="M31,189.5 Q43,183 56,186" stroke="#8a6cf0" stroke-width="4.8" fill="none"/><path d="M29,199 Q40,204 53,198" stroke="#3c3ab4" stroke-width="4" fill="none"/><path d="M81,177 Q77,195 69,213" stroke="#5452dc" stroke-width="5.5" fill="none"/><path d="M71,172 Q67,185 62,196" stroke="#3a3ab0" stroke-width="3.5" fill="none"/><ellipse cx="45" cy="207" rx="12" ry="5" fill="#24246a"/><ellipse cx="23" cy="190" rx="3.2" ry="6" fill="#d05cb8"/><ellipse cx="46" cy="169.8" rx="8" ry="2" fill="#c060c8"/><ellipse cx="46" cy="186" rx="7" ry="2" fill="#b060c8"/></g><rect x="0.8" y="200" width="88.8" height="22" fill="url(#fadeB)" stroke="none" stroke-width="1" /><path d="M35,223.5 Q60,226 90,230.5" stroke="#252a2a" stroke-width="0.8" fill="none"/><ellipse cx="80" cy="236" rx="3" ry="1" fill="#aaa" opacity="0.7" filter="url(#bl1)"/></g><g clip-path="url(#c2)"><rect x="91.6" y="150.6" width="89.4" height="89" fill="#090b0f" stroke="none" stroke-width="1" /><g filter="url(#bgs)"><path d="M85,145 L190,145 L190,226 Q150,222 130,221 Q110,222 85,224 Z" fill="#181744"/></g><g filter="url(#sts)"><path d="M113,157 Q105,167 96,177" stroke="#6a5ad8" stroke-width="7.5" fill="none"/><path d="M100,172 Q104,184 108,192" stroke="#262468" stroke-width="5" fill="none"/><ellipse cx="125.5" cy="194.3" rx="12.5" ry="11" fill="#4a50c4"/><ellipse cx="125.5" cy="194.3" rx="8.5" ry="7" fill="#7c78ea"/><ellipse cx="127" cy="194.5" rx="5" ry="3.5" fill="#b070d0"/><ellipse cx="159.4" cy="201" rx="11" ry="10.5" fill="#484cbc"/><ellipse cx="159.4" cy="201.5" rx="7" ry="6.5" fill="#8068e0"/><ellipse cx="160" cy="203" rx="5.5" ry="4.5" fill="#c068c0"/><ellipse cx="177" cy="156" rx="5" ry="6" fill="#8040c0"/><ellipse cx="142" cy="160" rx="10" ry="5" fill="#2c2c80"/><ellipse cx="107" cy="203" rx="5" ry="6" fill="#36287a"/></g><rect x="91.6" y="205" width="89.4" height="20" fill="url(#fadeB)" stroke="none" stroke-width="1" /><path d="M91,224 Q130,219 181,229" stroke="#252a2a" stroke-width="0.8" fill="none"/><ellipse cx="171" cy="236" rx="3" ry="1" fill="#aaa" opacity="0.7" filter="url(#bl1)"/></g><text x="219.3" y="141.1" font-size="8.8" text-anchor="start" fill="#111" stroke="#111" stroke-width="0.12"  textLength="18.9" lengthAdjust="spacing">10 kb</text><line x1="216.4" y1="142.6" x2="242.7" y2="142.6" stroke="#1a1a1a" stroke-width="0.9" /><text x="226.1" y="148.7" font-size="6.2" text-anchor="start" fill="#222" stroke="#222" stroke-width="0.12"  textLength="23.5" lengthAdjust="spacing">Promoter</text><text x="258.9" y="148.7" font-size="6.8" text-anchor="start" fill="#222" stroke="#222" stroke-width="0.15"  textLength="15.4" lengthAdjust="spacing">Site 2</text><text x="321.2" y="148.7" font-size="6.8" text-anchor="start" fill="#222" stroke="#222" stroke-width="0.15"  textLength="15.2" lengthAdjust="spacing">Site 1</text><line x1="220.2" y1="150.2" x2="220.2" y2="177" stroke="#e4e4ec" stroke-width="0.6" /><line x1="224.3" y1="150.2" x2="224.3" y2="177" stroke="#e4e4ec" stroke-width="0.6" /><line x1="228.4" y1="150.2" x2="228.4" y2="177" stroke="#e4e4ec" stroke-width="0.6" /><line x1="232.4" y1="150.2" x2="232.4" y2="177" stroke="#e4e4ec" stroke-width="0.6" /><line x1="236.5" y1="150.2" x2="236.5" y2="177" stroke="#e4e4ec" stroke-width="0.6" /><line x1="240.6" y1="150.2" x2="240.6" y2="177" stroke="#e4e4ec" stroke-width="0.6" /><line x1="244.7" y1="150.2" x2="244.7" y2="177" stroke="#e4e4ec" stroke-width="0.6" /><line x1="248.8" y1="150.2" x2="248.8" y2="177" stroke="#e4e4ec" stroke-width="0.6" /><line x1="252.8" y1="150.2" x2="252.8" y2="177" stroke="#e4e4ec" stroke-width="0.6" /><line x1="256.9" y1="150.2" x2="256.9" y2="177" stroke="#e4e4ec" stroke-width="0.6" /><line x1="261" y1="150.2" x2="261" y2="177" stroke="#e4e4ec" stroke-width="0.6" /><line x1="265.1" y1="150.2" x2="265.1" y2="177" stroke="#e4e4ec" stroke-width="0.6" /><line x1="269.2" y1="150.2" x2="269.2" y2="177" stroke="#e4e4ec" stroke-width="0.6" /><line x1="273.2" y1="150.2" x2="273.2" y2="177" stroke="#e4e4ec" stroke-width="0.6" /><line x1="277.3" y1="150.2" x2="277.3" y2="177" stroke="#e4e4ec" stroke-width="0.6" /><line x1="281.4" y1="150.2" x2="281.4" y2="177" stroke="#e4e4ec" stroke-width="0.6" /><line x1="285.5" y1="150.2" x2="285.5" y2="177" stroke="#e4e4ec" stroke-width="0.6" /><line x1="289.6" y1="150.2" x2="289.6" y2="177" stroke="#e4e4ec" stroke-width="0.6" /><line x1="293.6" y1="150.2" x2="293.6" y2="177" stroke="#e4e4ec" stroke-width="0.6" /><line x1="297.7" y1="150.2" x2="297.7" y2="177" stroke="#e4e4ec" stroke-width="0.6" /><line x1="301.8" y1="150.2" x2="301.8" y2="177" stroke="#e4e4ec" stroke-width="0.6" /><line x1="305.9" y1="150.2" x2="305.9" y2="177" stroke="#e4e4ec" stroke-width="0.6" /><line x1="310" y1="150.2" x2="310" y2="177" stroke="#e4e4ec" stroke-width="0.6" /><line x1="314" y1="150.2" x2="314" y2="177" stroke="#e4e4ec" stroke-width="0.6" /><line x1="318.1" y1="150.2" x2="318.1" y2="177" stroke="#e4e4ec" stroke-width="0.6" /><line x1="322.2" y1="150.2" x2="322.2" y2="177" stroke="#e4e4ec" stroke-width="0.6" /><line x1="326.3" y1="150.2" x2="326.3" y2="177" stroke="#e4e4ec" stroke-width="0.6" /><line x1="330.4" y1="150.2" x2="330.4" y2="177" stroke="#e4e4ec" stroke-width="0.6" /><line x1="334.4" y1="150.2" x2="334.4" y2="177" stroke="#e4e4ec" stroke-width="0.6" /><line x1="338.5" y1="150.2" x2="338.5" y2="177" stroke="#e4e4ec" stroke-width="0.6" /><line x1="342.6" y1="150.2" x2="342.6" y2="177" stroke="#e4e4ec" stroke-width="0.6" /><line x1="346.7" y1="150.2" x2="346.7" y2="177" stroke="#e4e4ec" stroke-width="0.6" /><line x1="350.8" y1="150.2" x2="350.8" y2="177" stroke="#e4e4ec" stroke-width="0.6" /><line x1="354.8" y1="150.2" x2="354.8" y2="177" stroke="#e4e4ec" stroke-width="0.6" /><line x1="358.9" y1="150.2" x2="358.9" y2="177" stroke="#e4e4ec" stroke-width="0.6" /><line x1="215.8" y1="149.8" x2="215.8" y2="177.6" stroke="#1a1a1a" stroke-width="1" /><text x="214.1" y="153.1" font-size="8.7" text-anchor="end" fill="#111" stroke="#111" stroke-width="0.12" >40</text><text x="214.1" y="179.3" font-size="8.7" text-anchor="end" fill="#111" stroke="#111" stroke-width="0.12" >0</text><text x="204.2" y="160.9" font-size="8.5" text-anchor="middle" fill="#111" stroke="#111" stroke-width="0.12" transform="rotate(-90 204.2 160.9)"  textLength="50.7" lengthAdjust="spacing">Binding (RPM)</text><path d="M216.5,177.3 L216.5,176.7 L217,176.7 L217.5,176.4 L218,175 L218.5,172.6 L219,173.3 L219.5,174.4 L220,175.9 L220.5,176.3 L221,176.6 L221.5,176.2 L222,176 L222.5,176.1 L223,176.5 L223.5,176.8 L224,176.8 L224.5,175.6 L225,176.3 L225.5,176.7 L226,176.5 L226.5,175.7 L227,174.3 L227.5,175.7 L228,176.4 L228.5,176.7 L229,176.7 L229.5,176 L230,176.6 L230.5,176.6 L231,176.6 L231.5,176.5 L232,176.7 L232.5,175.1 L233,174.9 L233.5,170.6 L234,169.8 L234.5,172.6 L235,171.7 L235.5,172.9 L236,175.9 L236.5,176.4 L237,176.7 L237.5,175.6 L238,172.2 L238.5,168.8 L239,171.9 L239.5,173.4 L240,172.7 L240.5,174.6 L241,176.4 L241.5,176.3 L242,176.3 L242.5,175.9 L243,176.4 L243.5,176.7 L244,175.7 L244.5,175.2 L245,175.8 L245.5,175.6 L246,174.7 L246.5,175.7 L247,176 L247.5,176.7 L248,176.5 L248.5,176.8 L249,176.8 L249.5,176.6 L250,176.8 L250.5,176.7 L251,176.5 L251.5,175 L252,173.8 L252.5,175 L253,176.5 L253.5,176.5 L254,176.7 L254.5,176.8 L255,176.6 L255.5,176.7 L256,176.7 L256.5,176.5 L257,176.1 L257.5,176.6 L258,176.4 L258.5,176.5 L259,176.8 L259.5,176.8 L260,176.6 L260.5,176.6 L261,176.7 L261.5,176.7 L262,176.6 L262.5,176.6 L263,175.3 L263.5,176.6 L264,170.2 L264.5,155.2 L265,170.6 L265.5,175.5 L266,176.6 L266.5,176.1 L267,176.8 L267.5,176.7 L268,176 L268.5,175.5 L269,176.7 L269.5,175.9 L270,176.7 L270.5,176.1 L271,174.6 L271.5,175.8 L272,176.3 L272.5,176.7 L273,175.7 L273.5,175.9 L274,176.1 L274.5,176 L275,176.6 L275.5,176.8 L276,176.5 L276.5,176.7 L277,176.7 L277.5,176.6 L278,176.4 L278.5,176.2 L279,176.6 L279.5,176.4 L280,175.9 L280.5,175.7 L281,176.4 L281.5,176.3 L282,176.5 L282.5,176.5 L283,176.3 L283.5,176.5 L284,176.7 L284.5,176.7 L285,176.5 L285.5,175.7 L286,176.5 L286.5,176.8 L287,176.2 L287.5,176.8 L288,176.4 L288.5,176.4 L289,176.4 L289.5,176.8 L290,176.8 L290.5,176.6 L291,176.7 L291.5,176.6 L292,176.4 L292.5,175.5 L293,173.2 L293.5,175.3 L294,175.5 L294.5,176.7 L295,176.4 L295.5,175.6 L296,176.7 L296.5,176.5 L297,176.6 L297.5,176.4 L298,176.2 L298.5,176.7 L299,176.4 L299.5,176.7 L300,175.8 L300.5,176.8 L301,176.6 L301.5,174.8 L302,176.8 L302.5,176.5 L303,176.7 L303.5,176.6 L304,176.7 L304.5,174.6 L305,173.7 L305.5,175.3 L306,174.8 L306.5,176.7 L307,176.7 L307.5,176.3 L308,176.8 L308.5,176.4 L309,176.7 L309.5,176.7 L310,176.3 L310.5,176.8 L311,176.8 L311.5,176.5 L312,175.9 L312.5,176.7 L313,176.6 L313.5,176.8 L314,176.6 L314.5,176.7 L315,176.3 L315.5,176.2 L316,176.5 L316.5,175.6 L317,176.5 L317.5,175.9 L318,174.6 L318.5,175.8 L319,176 L319.5,176.2 L320,175.9 L320.5,176.2 L321,176.7 L321.5,176.6 L322,176.8 L322.5,176 L323,176.8 L323.5,176.6 L324,176.4 L324.5,174.9 L325,175.5 L325.5,176.7 L326,176.6 L326.5,176.6 L327,176.7 L327.5,176.2 L328,176.4 L328.5,176.6 L329,176 L329.5,176.6 L330,176.3 L330.5,168.9 L331,150.9 L331.5,169.2 L332,176.4 L332.5,176.6 L333,176.8 L333.5,176.4 L334,176.7 L334.5,176.5 L335,176.8 L335.5,176.3 L336,176.4 L336.5,176 L337,176.5 L337.5,175.4 L338,176.8 L338.5,176.5 L339,176.6 L339.5,176.6 L340,176.5 L340.5,175.9 L341,176.5 L341.5,176.6 L342,176.6 L342.5,176.6 L343,176.8 L343.5,175.8 L344,173.7 L344.5,174.8 L345,176 L345.5,176.6 L346,175.9 L346.5,176.6 L347,176.5 L347.5,176.5 L348,176.7 L348.5,175.8 L349,176.4 L349.5,176.1 L350,176.7 L350.5,175.7 L351,176.3 L351.5,176.7 L352,176.8 L352.5,176.1 L353,176.7 L353.5,176.7 L354,175 L354.5,175.4 L355,173.5 L355.5,175 L356,176.2 L356.5,176.5 L357,176.7 L357.5,176.4 L358,176.5 L358.5,176.1 L359,176.7 L359.2,177.3 Z" fill="#4a4a9c" stroke="#34347e" stroke-width="0.35"/><line x1="215.8" y1="177.3" x2="359.2" y2="177.3" stroke="#5a5aa0" stroke-width="0.8" /><path d="M234.2,179.2 L234.2,183.6 L218.5,183.6" fill="none" stroke="#111" stroke-width="1"/><path d="M215.8,183.6 L219.6,181.6 L219.6,185.6 Z" fill="#111"/><text x="215.1" y="193.7" font-size="8.6" text-anchor="start" fill="#111" stroke="#111" stroke-width="0.12"  textLength="27.6" lengthAdjust="spacing">CXCR5</text><text x="362.8" y="152.6" font-size="8.6" text-anchor="start" fill="#222"  textLength="27.2" lengthAdjust="spacing">CXCR5</text><text x="390.2" y="154.5" font-size="4.1" text-anchor="start" fill="#111" stroke="#111" stroke-width="0.1" >p</text><text x="362.8" y="164.2" font-size="8.6" text-anchor="start" fill="#222"  textLength="27.2" lengthAdjust="spacing">CXCR5</text><text x="390.2" y="166.1" font-size="4.1" text-anchor="start" fill="#111" stroke="#111" stroke-width="0.1" >1+p</text><text x="362.8" y="175.8" font-size="8.6" text-anchor="start" fill="#222"  textLength="27.2" lengthAdjust="spacing">CXCR5</text><text x="390.2" y="177.7" font-size="4.1" text-anchor="start" fill="#111" stroke="#111" stroke-width="0.1" >2+p</text><line x1="428" y1="150.4" x2="514" y2="150.4" stroke="#333" stroke-width="0.8" /><rect x="435.8" y="147.7" width="22.7" height="5.4" fill="#e8781e" stroke="none" stroke-width="1" /><text x="447" y="151.5" font-size="3.2" text-anchor="middle" fill="#7a3a10" >CXCR5p</text><rect x="459.3" y="147.7" width="14.2" height="5.4" fill="#1f3a96" stroke="none" stroke-width="1" /><text x="466.4" y="151.5" font-size="3" text-anchor="middle" fill="#fff" stroke="#fff" stroke-width="0.12" >Thy1.1</text><rect x="476.2" y="147.8" width="18.8" height="5.2" fill="#fff" stroke="#555" stroke-width="0.5" /><text x="485.6" y="151.5" font-size="3" text-anchor="middle" fill="#444" stroke="#444" stroke-width="0.12" >P-Pgk1</text><rect x="496.9" y="147.7" width="13.5" height="5.4" fill="#1d8a46" stroke="none" stroke-width="1" /><text x="503.6" y="151.5" font-size="3" text-anchor="middle" fill="#fff" stroke="#fff" stroke-width="0.12" >eGFP</text><path d="M458.8,147.7 L458.8,142.8 L468.8,142.8" fill="none" stroke="#777" stroke-width="0.5"/><path d="M470.8,142.8 L468.3,141.7 L468.3,143.9 Z" fill="#333"/><path d="M496.4,147.7 L496.4,142.8 L506.4,142.8" fill="none" stroke="#777" stroke-width="0.5"/><path d="M508.4,142.8 L505.9,141.7 L505.9,143.9 Z" fill="#333"/><line x1="401.8" y1="163.5" x2="514" y2="163.5" stroke="#333" stroke-width="0.8" /><rect x="403.6" y="160.9" width="30.8" height="5.2" fill="#fff" stroke="#555" stroke-width="0.5" /><text x="405" y="164.7" font-size="3" text-anchor="start" fill="#555" stroke="#555" stroke-width="0.12" >5' regulatory site 1</text><rect x="435.8" y="160.8" width="22.7" height="5.4" fill="#e8781e" stroke="none" stroke-width="1" /><text x="447" y="164.6" font-size="3.2" text-anchor="middle" fill="#7a3a10" >CXCR5p</text><rect x="459.3" y="160.8" width="14.2" height="5.4" fill="#1f3a96" stroke="none" stroke-width="1" /><text x="466.4" y="164.6" font-size="3" text-anchor="middle" fill="#fff" stroke="#fff" stroke-width="0.12" >Thy1.1</text><rect x="476.2" y="160.9" width="18.8" height="5.2" fill="#fff" stroke="#555" stroke-width="0.5" /><text x="485.6" y="164.6" font-size="3" text-anchor="middle" fill="#444" stroke="#444" stroke-width="0.12" >P-Pgk1</text><rect x="496.9" y="160.8" width="13.5" height="5.4" fill="#1d8a46" stroke="none" stroke-width="1" /><text x="503.6" y="164.6" font-size="3" text-anchor="middle" fill="#fff" stroke="#fff" stroke-width="0.12" >eGFP</text><path d="M458.8,160.8 L458.8,155.9 L468.8,155.9" fill="none" stroke="#777" stroke-width="0.5"/><path d="M470.8,155.9 L468.3,154.8 L468.3,157 Z" fill="#333"/><path d="M496.4,160.8 L496.4,155.9 L506.4,155.9" fill="none" stroke="#777" stroke-width="0.5"/><path d="M508.4,155.9 L505.9,154.8 L505.9,157 Z" fill="#333"/><line x1="401.8" y1="175.9" x2="514" y2="175.9" stroke="#333" stroke-width="0.8" /><rect x="403.6" y="173.3" width="30.8" height="5.2" fill="#fff" stroke="#555" stroke-width="0.5" /><text x="405" y="177.1" font-size="3" text-anchor="start" fill="#555" stroke="#555" stroke-width="0.12" >5' regulatory site 2</text><rect x="435.8" y="173.2" width="22.7" height="5.4" fill="#e8781e" stroke="none" stroke-width="1" /><text x="447" y="177" font-size="3.2" text-anchor="middle" fill="#7a3a10" >CXCR5p</text><rect x="459.3" y="173.2" width="14.2" height="5.4" fill="#1f3a96" stroke="none" stroke-width="1" /><text x="466.4" y="177" font-size="3" text-anchor="middle" fill="#fff" stroke="#fff" stroke-width="0.12" >Thy1.1</text><rect x="476.2" y="173.3" width="18.8" height="5.2" fill="#fff" stroke="#555" stroke-width="0.5" /><text x="485.6" y="177" font-size="3" text-anchor="middle" fill="#444" stroke="#444" stroke-width="0.12" >P-Pgk1</text><rect x="496.9" y="173.2" width="13.5" height="5.4" fill="#1d8a46" stroke="none" stroke-width="1" /><text x="503.6" y="177" font-size="3" text-anchor="middle" fill="#fff" stroke="#fff" stroke-width="0.12" >eGFP</text><path d="M458.8,173.2 L458.8,168.3 L468.8,168.3" fill="none" stroke="#777" stroke-width="0.5"/><path d="M470.8,168.3 L468.3,167.2 L468.3,169.4 Z" fill="#333"/><path d="M496.4,173.2 L496.4,168.3 L506.4,168.3" fill="none" stroke="#777" stroke-width="0.5"/><path d="M508.4,168.3 L505.9,167.2 L505.9,169.4 Z" fill="#333"/><text x="187.4" y="223.7" font-size="8.0" text-anchor="start" fill="#333" stroke="#333" stroke-width="0.12"  textLength="37.5" lengthAdjust="spacing">Bach2-WT</text><text x="187.8" y="263.8" font-size="8.0" text-anchor="start" fill="#333" stroke="#333" stroke-width="0.12"  textLength="40.2" lengthAdjust="spacing">Bach2-cKO</text><text x="187.8" y="273.1" font-size="8.0" text-anchor="start" fill="#333" stroke="#333" stroke-width="0.12"  textLength="31" lengthAdjust="spacing">CD4-Cre</text><text x="253" y="199.9" font-size="8.1" text-anchor="start" fill="#222" stroke="#222" stroke-width="0.08"  textLength="26.9" lengthAdjust="spacing">CXCR5</text><text x="279.8" y="202.6" font-size="4.4" text-anchor="start" fill="#222" stroke="#222" stroke-width="0.05" >p</text><rect x="246.3" y="204.3" width="39.9" height="38.9" fill="#fff" stroke="#e2e2e2" stroke-width="0.6" /><line x1="246.3" y1="210.3" x2="246.3" y2="212.3" stroke="#666" stroke-width="0.6" /><line x1="246.3" y1="219.3" x2="246.3" y2="221.3" stroke="#666" stroke-width="0.6" /><line x1="246.3" y1="228.3" x2="246.3" y2="230.3" stroke="#666" stroke-width="0.6" /><line x1="246.3" y1="237.3" x2="246.3" y2="239.3" stroke="#666" stroke-width="0.6" /><line x1="249.3" y1="243.2" x2="253.8" y2="243.2" stroke="#333" stroke-width="0.9" /><line x1="258.3" y1="242.4" x2="258.3" y2="243.2" stroke="#888" stroke-width="0.5" /><line x1="266.8" y1="242.4" x2="266.8" y2="243.2" stroke="#888" stroke-width="0.5" /><line x1="275.3" y1="242.4" x2="275.3" y2="243.2" stroke="#888" stroke-width="0.5" /><line x1="283.8" y1="242.4" x2="283.8" y2="243.2" stroke="#888" stroke-width="0.5" /><g filter="url(#bl05)"><path d="M252,219.6 C252,214.6 264.3,214.1 272,219.3 C264.3,225.1 252,224.6 252,219.6 Z" fill="#f0f0f0" stroke="#bbb" stroke-width="0.6"/><path d="M254.5,219.6 C254.5,216 263.4,215.6 268.9,219.3 C263.4,223.6 254.5,223.2 254.5,219.6 Z" fill="#dcdcdc" stroke="#999" stroke-width="0.6"/><path d="M256.9,219.6 C256.9,217.3 262.5,217.1 266.1,219.3 C262.5,222.1 256.9,221.9 256.9,219.6 Z" fill="#bcbcbc" stroke="#777" stroke-width="0.6"/><ellipse cx="259.5" cy="219.6" rx="3.5" ry="1.2" fill="#888"/></g><rect x="261.2" y="209" width="23.1" height="19" fill="none" stroke="#777" stroke-width="0.8" /><text x="283.7" y="237.3" font-size="8.4" text-anchor="end" fill="#222" stroke="#222" stroke-width="0.08"  textLength="15.2" lengthAdjust="spacing">46.1</text><rect x="246.3" y="245.9" width="39.9" height="39.5" fill="#fff" stroke="#e2e2e2" stroke-width="0.6" /><line x1="246.3" y1="251.9" x2="246.3" y2="253.9" stroke="#666" stroke-width="0.6" /><line x1="246.3" y1="260.9" x2="246.3" y2="262.9" stroke="#666" stroke-width="0.6" /><line x1="246.3" y1="269.9" x2="246.3" y2="271.9" stroke="#666" stroke-width="0.6" /><line x1="246.3" y1="278.9" x2="246.3" y2="280.9" stroke="#666" stroke-width="0.6" /><line x1="249.3" y1="285.4" x2="253.8" y2="285.4" stroke="#333" stroke-width="0.9" /><line x1="258.3" y1="284.6" x2="258.3" y2="285.4" stroke="#888" stroke-width="0.5" /><line x1="266.8" y1="284.6" x2="266.8" y2="285.4" stroke="#888" stroke-width="0.5" /><line x1="275.3" y1="284.6" x2="275.3" y2="285.4" stroke="#888" stroke-width="0.5" /><line x1="283.8" y1="284.6" x2="283.8" y2="285.4" stroke="#888" stroke-width="0.5" /><g filter="url(#bl05)"><path d="M249.7,260.7 C249.7,255.7 262,255.2 269.7,260.4 C262,266.2 249.7,265.7 249.7,260.7 Z" fill="#f0f0f0" stroke="#bbb" stroke-width="0.6"/><path d="M252.2,260.7 C252.2,257.1 261.1,256.7 266.6,260.4 C261.1,264.7 252.2,264.3 252.2,260.7 Z" fill="#dcdcdc" stroke="#999" stroke-width="0.6"/><path d="M254.6,260.7 C254.6,258.4 260.2,258.2 263.8,260.4 C260.2,263.2 254.6,263 254.6,260.7 Z" fill="#bcbcbc" stroke="#777" stroke-width="0.6"/><ellipse cx="257.2" cy="260.7" rx="3.5" ry="1.2" fill="#888"/></g><rect x="261.2" y="251.3" width="23.1" height="18.7" fill="none" stroke="#777" stroke-width="0.8" /><text x="283.7" y="278.6" font-size="8.4" text-anchor="end" fill="#222" stroke="#222" stroke-width="0.08"  textLength="15.2" lengthAdjust="spacing">44.5</text><text x="294.9" y="199.9" font-size="8.1" text-anchor="start" fill="#222" stroke="#222" stroke-width="0.08"  textLength="26.9" lengthAdjust="spacing">CXCR5</text><text x="321.7" y="202.6" font-size="4.4" text-anchor="start" fill="#222" stroke="#222" stroke-width="0.05" >1+p</text><rect x="289" y="204.3" width="41.2" height="38.9" fill="#fff" stroke="#e2e2e2" stroke-width="0.6" /><line x1="289" y1="210.3" x2="289" y2="212.3" stroke="#666" stroke-width="0.6" /><line x1="289" y1="219.3" x2="289" y2="221.3" stroke="#666" stroke-width="0.6" /><line x1="289" y1="228.3" x2="289" y2="230.3" stroke="#666" stroke-width="0.6" /><line x1="289" y1="237.3" x2="289" y2="239.3" stroke="#666" stroke-width="0.6" /><line x1="292" y1="243.2" x2="296.5" y2="243.2" stroke="#333" stroke-width="0.9" /><line x1="301" y1="242.4" x2="301" y2="243.2" stroke="#888" stroke-width="0.5" /><line x1="309.5" y1="242.4" x2="309.5" y2="243.2" stroke="#888" stroke-width="0.5" /><line x1="318" y1="242.4" x2="318" y2="243.2" stroke="#888" stroke-width="0.5" /><line x1="326.5" y1="242.4" x2="326.5" y2="243.2" stroke="#888" stroke-width="0.5" /><g filter="url(#bl05)"><path d="M290.8,219.6 C290.8,214.6 302.6,214.1 309.2,219.3 C302.6,225.1 290.8,224.6 290.8,219.6 Z" fill="#f0f0f0" stroke="#bbb" stroke-width="0.6"/><path d="M293.3,219.6 C293.3,216 301.8,215.6 306.5,219.3 C301.8,223.6 293.3,223.2 293.3,219.6 Z" fill="#dcdcdc" stroke="#999" stroke-width="0.6"/><path d="M295.7,219.6 C295.7,217.3 301.1,217.1 304.1,219.3 C301.1,222.1 295.7,221.9 295.7,219.6 Z" fill="#bcbcbc" stroke="#777" stroke-width="0.6"/><ellipse cx="298.3" cy="219.6" rx="3.5" ry="1.2" fill="#888"/></g><rect x="304.2" y="209" width="24.3" height="19" fill="none" stroke="#777" stroke-width="0.8" /><text x="327.9" y="237.3" font-size="8.4" text-anchor="end" fill="#222" stroke="#222" stroke-width="0.08"  textLength="15.2" lengthAdjust="spacing">21.7</text><rect x="289" y="245.9" width="41.2" height="39.5" fill="#fff" stroke="#e2e2e2" stroke-width="0.6" /><line x1="289" y1="251.9" x2="289" y2="253.9" stroke="#666" stroke-width="0.6" /><line x1="289" y1="260.9" x2="289" y2="262.9" stroke="#666" stroke-width="0.6" /><line x1="289" y1="269.9" x2="289" y2="271.9" stroke="#666" stroke-width="0.6" /><line x1="289" y1="278.9" x2="289" y2="280.9" stroke="#666" stroke-width="0.6" /><line x1="292" y1="285.4" x2="296.5" y2="285.4" stroke="#333" stroke-width="0.9" /><line x1="301" y1="284.6" x2="301" y2="285.4" stroke="#888" stroke-width="0.5" /><line x1="309.5" y1="284.6" x2="309.5" y2="285.4" stroke="#888" stroke-width="0.5" /><line x1="318" y1="284.6" x2="318" y2="285.4" stroke="#888" stroke-width="0.5" /><line x1="326.5" y1="284.6" x2="326.5" y2="285.4" stroke="#888" stroke-width="0.5" /><g filter="url(#bl05)"><path d="M292.4,261.6 C292.4,256.6 304.5,256.1 311.8,261.3 C304.5,267.1 292.4,266.6 292.4,261.6 Z" fill="#f0f0f0" stroke="#bbb" stroke-width="0.6"/><path d="M294.9,261.6 C294.9,258 303.7,257.6 308.9,261.3 C303.7,265.6 294.9,265.2 294.9,261.6 Z" fill="#dcdcdc" stroke="#999" stroke-width="0.6"/><path d="M297.3,261.6 C297.3,259.3 302.8,259.1 306.2,261.3 C302.8,264.1 297.3,263.9 297.3,261.6 Z" fill="#bcbcbc" stroke="#777" stroke-width="0.6"/><ellipse cx="299.9" cy="261.6" rx="3.5" ry="1.2" fill="#888"/></g><rect x="304.2" y="251.3" width="24.3" height="18.7" fill="none" stroke="#777" stroke-width="0.8" /><text x="327.9" y="278.6" font-size="8.4" text-anchor="end" fill="#222" stroke="#222" stroke-width="0.08"  textLength="15.2" lengthAdjust="spacing">42.1</text><text x="337.9" y="199.9" font-size="8.1" text-anchor="start" fill="#222" stroke="#222" stroke-width="0.08"  textLength="26.9" lengthAdjust="spacing">CXCR5</text><text x="364.7" y="202.6" font-size="4.4" text-anchor="start" fill="#222" stroke="#222" stroke-width="0.05" >2+p</text><rect x="332.6" y="204.3" width="39.8" height="38.9" fill="#fff" stroke="#e2e2e2" stroke-width="0.6" /><line x1="332.6" y1="210.3" x2="332.6" y2="212.3" stroke="#666" stroke-width="0.6" /><line x1="332.6" y1="219.3" x2="332.6" y2="221.3" stroke="#666" stroke-width="0.6" /><line x1="332.6" y1="228.3" x2="332.6" y2="230.3" stroke="#666" stroke-width="0.6" /><line x1="332.6" y1="237.3" x2="332.6" y2="239.3" stroke="#666" stroke-width="0.6" /><line x1="335.6" y1="243.2" x2="340.1" y2="243.2" stroke="#333" stroke-width="0.9" /><line x1="344.6" y1="242.4" x2="344.6" y2="243.2" stroke="#888" stroke-width="0.5" /><line x1="353.1" y1="242.4" x2="353.1" y2="243.2" stroke="#888" stroke-width="0.5" /><line x1="361.6" y1="242.4" x2="361.6" y2="243.2" stroke="#888" stroke-width="0.5" /><line x1="370.1" y1="242.4" x2="370.1" y2="243.2" stroke="#888" stroke-width="0.5" /><g filter="url(#bl05)"><path d="M335.8,219.6 C335.8,214.6 347.8,214.1 354.7,219.3 C347.8,225.1 335.8,224.6 335.8,219.6 Z" fill="#f0f0f0" stroke="#bbb" stroke-width="0.6"/><path d="M338.3,219.6 C338.3,216 346.9,215.6 351.9,219.3 C346.9,223.6 338.3,223.2 338.3,219.6 Z" fill="#dcdcdc" stroke="#999" stroke-width="0.6"/><path d="M340.7,219.6 C340.7,217.3 346.2,217.1 349.4,219.3 C346.2,222.1 340.7,221.9 340.7,219.6 Z" fill="#bcbcbc" stroke="#777" stroke-width="0.6"/><ellipse cx="343.3" cy="219.6" rx="3.5" ry="1.2" fill="#888"/></g><rect x="348.5" y="209" width="22.9" height="19" fill="none" stroke="#777" stroke-width="0.8" /><text x="370.8" y="237.3" font-size="8.4" text-anchor="end" fill="#222" stroke="#222" stroke-width="0.08"  textLength="15.2" lengthAdjust="spacing">31.5</text><rect x="332.6" y="245.9" width="39.8" height="39.5" fill="#fff" stroke="#e2e2e2" stroke-width="0.6" /><line x1="332.6" y1="251.9" x2="332.6" y2="253.9" stroke="#666" stroke-width="0.6" /><line x1="332.6" y1="260.9" x2="332.6" y2="262.9" stroke="#666" stroke-width="0.6" /><line x1="332.6" y1="269.9" x2="332.6" y2="271.9" stroke="#666" stroke-width="0.6" /><line x1="332.6" y1="278.9" x2="332.6" y2="280.9" stroke="#666" stroke-width="0.6" /><line x1="335.6" y1="285.4" x2="340.1" y2="285.4" stroke="#333" stroke-width="0.9" /><line x1="344.6" y1="284.6" x2="344.6" y2="285.4" stroke="#888" stroke-width="0.5" /><line x1="353.1" y1="284.6" x2="353.1" y2="285.4" stroke="#888" stroke-width="0.5" /><line x1="361.6" y1="284.6" x2="361.6" y2="285.4" stroke="#888" stroke-width="0.5" /><line x1="370.1" y1="284.6" x2="370.1" y2="285.4" stroke="#888" stroke-width="0.5" /><g filter="url(#bl05)"><path d="M334.8,261.6 C334.8,256.6 346.8,256.1 353.7,261.3 C346.8,267.1 334.8,266.6 334.8,261.6 Z" fill="#f0f0f0" stroke="#bbb" stroke-width="0.6"/><path d="M337.3,261.6 C337.3,258 345.9,257.6 350.9,261.3 C345.9,265.6 337.3,265.2 337.3,261.6 Z" fill="#dcdcdc" stroke="#999" stroke-width="0.6"/><path d="M339.7,261.6 C339.7,259.3 345.2,259.1 348.4,261.3 C345.2,264.1 339.7,263.9 339.7,261.6 Z" fill="#bcbcbc" stroke="#777" stroke-width="0.6"/><ellipse cx="342.3" cy="261.6" rx="3.5" ry="1.2" fill="#888"/></g><rect x="348.5" y="251.3" width="22.9" height="18.7" fill="none" stroke="#777" stroke-width="0.8" /><text x="370.8" y="278.6" font-size="8.4" text-anchor="end" fill="#222" stroke="#222" stroke-width="0.08"  textLength="15.2" lengthAdjust="spacing">29.5</text><line x1="240.8" y1="291.6" x2="240.8" y2="262" stroke="#1a1a1a" stroke-width="1.1" /><path d="M240.8,253.6 L237.8,263.6 L243.8,263.6 Z" fill="#111"/><line x1="240.3" y1="291.6" x2="266.5" y2="291.6" stroke="#1a1a1a" stroke-width="1.1" /><path d="M275,291.6 L265.5,288.6 L265.5,294.6 Z" fill="#111"/><text x="246.4" y="301.4" font-size="8.5" text-anchor="start" fill="#222" stroke="#222" stroke-width="0.12"  textLength="24.8" lengthAdjust="spacing">Thy1.1</text><text x="237.9" y="274.2" font-size="8.5" text-anchor="middle" fill="#222" stroke="#222" stroke-width="0.12" transform="rotate(-90 237.9 274.2)"  textLength="16" lengthAdjust="spacing">CD4</text><line x1="399.5" y1="202" x2="399.5" y2="273" stroke="#1a1a1a" stroke-width="1" /><line x1="397" y1="202.8" x2="399.5" y2="202.8" stroke="#1a1a1a" stroke-width="1" /><text x="396.6" y="205.8" font-size="8.6" text-anchor="end" fill="#111" stroke="#111" stroke-width="0.12" >50</text><line x1="397" y1="216.8" x2="399.5" y2="216.8" stroke="#1a1a1a" stroke-width="1" /><text x="396.6" y="219.8" font-size="8.6" text-anchor="end" fill="#111" stroke="#111" stroke-width="0.12" >40</text><line x1="397" y1="230.7" x2="399.5" y2="230.7" stroke="#1a1a1a" stroke-width="1" /><text x="396.6" y="233.7" font-size="8.6" text-anchor="end" fill="#111" stroke="#111" stroke-width="0.12" >30</text><line x1="397" y1="244.7" x2="399.5" y2="244.7" stroke="#1a1a1a" stroke-width="1" /><text x="396.6" y="247.7" font-size="8.6" text-anchor="end" fill="#111" stroke="#111" stroke-width="0.12" >20</text><line x1="397" y1="258.6" x2="399.5" y2="258.6" stroke="#1a1a1a" stroke-width="1" /><text x="396.6" y="261.6" font-size="8.6" text-anchor="end" fill="#111" stroke="#111" stroke-width="0.12" >10</text><line x1="397" y1="272.6" x2="399.5" y2="272.6" stroke="#1a1a1a" stroke-width="1" /><text x="396.6" y="275.6" font-size="8.6" text-anchor="end" fill="#111" stroke="#111" stroke-width="0.12" >0</text><line x1="399" y1="272.6" x2="470.5" y2="272.6" stroke="#1a1a1a" stroke-width="1" /><line x1="411.2" y1="272.6" x2="411.2" y2="275" stroke="#1a1a1a" stroke-width="1" /><line x1="435" y1="272.6" x2="435" y2="275" stroke="#1a1a1a" stroke-width="1" /><line x1="458.6" y1="272.6" x2="458.6" y2="275" stroke="#1a1a1a" stroke-width="1" /><rect x="404.4" y="208.9" width="5.4" height="63.7" fill="#fff" stroke="#111" stroke-width="1" /><rect x="412.8" y="212.3" width="6.4" height="60.3" fill="#111" stroke="none" stroke-width="1" /><line x1="416" y1="210.4" x2="416" y2="212.3" stroke="#111" stroke-width="0.8" /><line x1="414.5" y1="210.4" x2="417.5" y2="210.4" stroke="#111" stroke-width="0.8" /><rect x="427.6" y="241.9" width="5.6" height="30.7" fill="#fff" stroke="#111" stroke-width="1" /><line x1="430.4" y1="239.4" x2="430.4" y2="241.4" stroke="#111" stroke-width="0.8" /><line x1="428.9" y1="239.4" x2="431.9" y2="239.4" stroke="#111" stroke-width="0.8" /><rect x="436.2" y="215.4" width="6.6" height="57.2" fill="#111" stroke="none" stroke-width="1" /><line x1="439.5" y1="213.7" x2="439.5" y2="215.4" stroke="#111" stroke-width="0.8" /><line x1="438" y1="213.7" x2="441" y2="213.7" stroke="#111" stroke-width="0.8" /><rect x="450.7" y="229.1" width="5.5" height="43.5" fill="#fff" stroke="#111" stroke-width="1" /><rect x="459.5" y="230.7" width="6.6" height="41.9" fill="#111" stroke="none" stroke-width="1" /><line x1="406.6" y1="191.5" x2="453" y2="191.5" stroke="#1a1a1a" stroke-width="0.9" /><text x="428" y="191.9" font-size="7" text-anchor="middle" fill="#111" stroke="#111" stroke-width="0.12" >***</text><line x1="406.6" y1="198.9" x2="431.3" y2="198.9" stroke="#1a1a1a" stroke-width="0.9" /><text x="419.9" y="199.6" font-size="7" text-anchor="middle" fill="#111" stroke="#111" stroke-width="0.12" >***</text><line x1="415.1" y1="205" x2="462.5" y2="205" stroke="#1a1a1a" stroke-width="0.9" /><text x="436.8" y="205.1" font-size="7" text-anchor="middle" fill="#111" stroke="#111" stroke-width="0.12" >***</text><line x1="427.6" y1="210.4" x2="440.3" y2="210.4" stroke="#1a1a1a" stroke-width="0.9" /><text x="434.5" y="211.1" font-size="7" text-anchor="middle" fill="#111" stroke="#111" stroke-width="0.12" >***</text><rect x="467.6" y="204.9" width="8" height="4" fill="#fff" stroke="#111" stroke-width="0.9" /><rect x="467.2" y="213.3" width="8.6" height="4.8" fill="#111" stroke="none" stroke-width="1" /><text x="479.6" y="209.7" font-size="8.5" text-anchor="start" fill="#111" stroke="#111" stroke-width="0.12"  textLength="35.4" lengthAdjust="spacing">Bach2-WT</text><text x="479.6" y="218.4" font-size="8.5" text-anchor="start" fill="#111" stroke="#111" stroke-width="0.12"  textLength="38.7" lengthAdjust="spacing">Bach2-cKO</text><text x="479.6" y="227.6" font-size="8.5" text-anchor="start" fill="#111" stroke="#111" stroke-width="0.12"  textLength="30.8" lengthAdjust="spacing">CD4-Cre</text><text x="384.8" y="233.5" font-size="7" text-anchor="middle" fill="#111" stroke="#111" stroke-width="0.12" transform="rotate(-90 384.8 233.5)" >Thy1.1<tspan font-size="4.5" dy="-3">+</tspan><tspan dy="3">%</tspan></text><text x="414.6" y="277.4" font-size="8.4" text-anchor="end" fill="#111" stroke="#111" stroke-width="0.12" transform="rotate(-45 414.6 277.4)" >CXCR5<tspan font-size="4.5" dy="2">p</tspan></text><text x="438.4" y="277.4" font-size="8.4" text-anchor="end" fill="#111" stroke="#111" stroke-width="0.12" transform="rotate(-45 438.4 277.4)" >CXCR5<tspan font-size="4.5" dy="2">1+p</tspan></text><text x="462" y="277.4" font-size="8.4" text-anchor="end" fill="#111" stroke="#111" stroke-width="0.12" transform="rotate(-45 462 277.4)" >CXCR5<tspan font-size="4.5" dy="2">2+p</tspan></text></svg></body></html>
